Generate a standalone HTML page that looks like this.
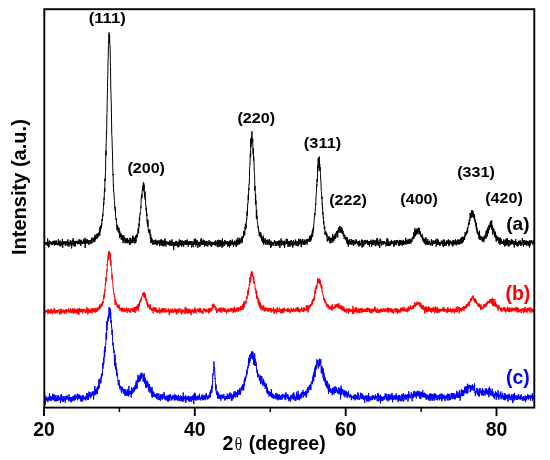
<!DOCTYPE html>
<html><head><meta charset="utf-8"><style>
html,body{margin:0;padding:0;background:#fff;width:550px;height:460px;overflow:hidden}
svg{display:block}
</style></head><body>
<svg width="550" height="460" viewBox="0 0 550 460">
<rect width="550" height="460" fill="#fff"/>
<polyline fill="none" stroke="#000" stroke-width="1" stroke-linejoin="round" points="44.50,244.1 44.50,245.0 44.50,244.1 44.50,241.2 44.60,245.1 44.75,244.3 44.91,242.5 45.06,244.5 45.21,244.2 45.36,244.0 45.51,243.5 45.66,244.5 45.81,242.2 45.96,243.2 46.11,242.6 46.26,244.6 46.41,243.6 46.56,243.0 46.72,242.1 46.87,243.0 47.02,243.5 47.17,243.0 47.32,245.8 47.47,245.3 47.62,238.6 47.77,240.1 47.92,243.2 48.07,242.7 48.22,243.9 48.37,243.9 48.53,247.3 48.68,241.5 48.83,242.8 48.98,247.2 49.13,244.6 49.28,244.7 49.43,242.5 49.58,240.5 49.73,243.8 49.88,243.7 50.03,241.3 50.18,242.2 50.34,243.3 50.49,241.8 50.64,243.3 50.79,243.6 50.94,243.5 51.09,242.5 51.24,244.5 51.39,245.1 51.54,244.0 51.69,242.0 51.84,244.8 51.99,242.6 52.15,245.0 52.30,241.5 52.45,245.1 52.60,243.4 52.75,241.2 52.90,242.9 53.05,243.5 53.20,243.9 53.35,241.7 53.50,241.4 53.65,243.8 53.80,242.6 53.96,243.9 54.11,244.8 54.26,240.5 54.41,243.9 54.56,245.6 54.71,242.9 54.86,242.0 55.01,244.8 55.16,243.9 55.31,245.0 55.46,242.8 55.61,240.8 55.77,243.2 55.92,242.6 56.07,244.8 56.22,243.8 56.37,240.5 56.52,241.3 56.67,245.0 56.82,244.6 56.97,242.3 57.12,243.4 57.27,244.2 57.42,244.3 57.58,245.0 57.73,243.9 57.88,243.2 58.03,242.9 58.18,245.3 58.33,239.3 58.48,243.1 58.63,243.5 58.78,240.8 58.93,244.0 59.08,242.2 59.23,244.9 59.39,243.2 59.54,244.6 59.69,245.6 59.84,244.1 59.99,241.8 60.14,240.6 60.29,246.5 60.44,243.2 60.59,242.1 60.74,243.6 60.89,243.0 61.04,244.9 61.20,243.4 61.35,243.4 61.50,242.1 61.65,244.2 61.80,241.5 61.95,244.6 62.10,246.1 62.25,240.6 62.40,238.9 62.55,244.5 62.70,247.9 62.85,241.5 63.01,241.1 63.16,244.4 63.31,241.8 63.46,242.4 63.61,242.7 63.76,244.3 63.91,242.6 64.06,243.8 64.21,243.0 64.36,241.8 64.51,242.7 64.67,241.6 64.82,243.3 64.97,241.3 65.12,241.3 65.27,245.9 65.42,243.2 65.57,243.2 65.72,244.2 65.87,242.5 66.02,242.9 66.17,244.1 66.32,243.8 66.48,241.2 66.63,244.8 66.78,242.2 66.93,241.4 67.08,241.6 67.23,242.6 67.38,246.2 67.53,241.1 67.68,243.5 67.83,239.4 67.98,243.2 68.13,244.9 68.29,242.8 68.44,242.1 68.59,243.7 68.74,244.5 68.89,244.4 69.04,246.8 69.19,243.6 69.34,242.2 69.49,243.0 69.64,243.1 69.79,243.4 69.94,243.2 70.10,243.5 70.25,240.2 70.40,244.7 70.55,242.2 70.70,241.1 70.85,244.3 71.00,245.6 71.15,244.1 71.30,243.5 71.45,241.5 71.60,248.4 71.75,244.8 71.91,241.1 72.06,241.7 72.21,243.3 72.36,240.3 72.51,243.4 72.66,242.3 72.81,245.3 72.96,244.9 73.11,238.2 73.26,243.2 73.41,240.2 73.56,245.1 73.72,243.4 73.87,244.1 74.02,241.2 74.17,246.4 74.32,246.7 74.47,241.1 74.62,243.7 74.77,241.8 74.92,243.0 75.07,240.8 75.22,246.4 75.37,241.3 75.53,242.5 75.68,243.9 75.83,241.8 75.98,242.6 76.13,242.0 76.28,242.8 76.43,240.9 76.58,242.2 76.73,242.6 76.88,242.4 77.03,243.1 77.18,242.4 77.34,244.3 77.49,242.4 77.64,242.7 77.79,241.7 77.94,242.0 78.09,240.6 78.24,243.8 78.39,240.8 78.54,241.5 78.69,243.5 78.84,243.6 78.99,242.1 79.15,239.2 79.30,243.6 79.45,243.3 79.60,240.3 79.75,244.2 79.90,241.5 80.05,240.7 80.20,243.0 80.35,242.4 80.50,243.1 80.65,239.8 80.80,246.0 80.96,241.6 81.11,239.9 81.26,243.8 81.41,242.0 81.56,243.3 81.71,242.0 81.86,242.5 82.01,243.1 82.16,241.3 82.31,243.8 82.46,241.7 82.62,241.0 82.77,242.7 82.92,243.4 83.07,242.1 83.22,241.0 83.37,243.6 83.52,239.3 83.67,240.6 83.82,242.5 83.97,240.0 84.12,242.5 84.27,242.3 84.43,244.0 84.58,240.7 84.73,241.2 84.88,242.9 85.03,237.8 85.18,248.0 85.33,241.0 85.48,240.9 85.63,243.8 85.78,242.1 85.93,238.9 86.08,243.3 86.24,243.7 86.39,241.3 86.54,241.6 86.69,243.0 86.84,240.4 86.99,242.8 87.14,242.4 87.29,240.7 87.44,239.4 87.59,241.5 87.74,240.3 87.89,243.7 88.05,242.1 88.20,243.2 88.35,242.0 88.50,242.2 88.65,240.3 88.80,242.9 88.95,244.9 89.10,241.0 89.25,240.5 89.40,241.2 89.55,240.6 89.70,240.1 89.86,241.6 90.01,240.8 90.16,244.0 90.31,241.3 90.46,241.8 90.61,242.9 90.76,240.6 90.91,243.7 91.06,239.8 91.21,239.5 91.36,240.2 91.51,240.6 91.67,238.2 91.82,240.7 91.97,237.6 92.12,243.2 92.27,240.4 92.42,239.3 92.57,238.7 92.72,239.6 92.87,239.8 93.02,238.2 93.17,238.4 93.32,239.7 93.48,238.9 93.63,241.6 93.78,241.9 93.93,239.7 94.08,240.5 94.23,236.9 94.38,240.6 94.53,239.2 94.68,240.1 94.83,242.1 94.98,234.6 95.13,239.3 95.29,236.6 95.44,239.7 95.59,235.9 95.74,237.3 95.89,238.5 96.04,239.1 96.19,237.9 96.34,236.1 96.49,236.4 96.64,239.0 96.79,237.1 96.94,233.6 97.10,238.3 97.25,237.3 97.40,238.0 97.55,235.4 97.70,237.4 97.85,233.5 98.00,236.4 98.15,234.0 98.30,236.1 98.45,236.4 98.60,232.7 98.75,233.7 98.91,233.6 99.06,235.5 99.21,234.2 99.36,229.9 99.51,232.9 99.66,233.1 99.81,235.5 99.96,227.1 100.11,229.0 100.26,232.4 100.41,226.2 100.56,225.9 100.72,228.9 100.87,229.4 101.02,225.1 101.17,227.0 101.32,225.3 101.47,227.6 101.62,223.4 101.77,224.7 101.92,219.5 102.07,220.2 102.22,219.3 102.38,221.0 102.53,218.5 102.68,214.2 102.83,216.2 102.98,215.0 103.13,211.3 103.28,209.3 103.43,207.8 103.58,202.1 103.73,204.9 103.88,202.9 104.03,197.8 104.19,199.6 104.34,191.5 104.49,190.9 104.64,188.2 104.79,192.0 104.94,178.5 105.09,181.2 105.24,178.5 105.39,172.9 105.54,171.1 105.69,159.8 105.84,150.8 106.00,155.4 106.15,143.6 106.30,140.7 106.45,131.7 106.60,133.2 106.75,126.1 106.90,113.5 107.05,112.6 107.20,102.5 107.35,94.2 107.50,87.6 107.65,79.3 107.81,75.5 107.96,67.4 108.11,58.1 108.26,57.9 108.41,45.5 108.56,44.7 108.71,41.5 108.86,43.3 109.01,32.6 109.16,41.9 109.31,35.1 109.46,34.8 109.62,35.1 109.77,44.1 109.92,46.0 110.07,46.0 110.22,51.7 110.37,60.5 110.52,66.7 110.67,81.0 110.82,89.3 110.97,94.5 111.12,99.8 111.27,104.0 111.43,112.9 111.58,122.9 111.73,133.9 111.88,135.9 112.03,137.9 112.18,144.9 112.33,148.7 112.48,153.1 112.63,160.0 112.78,165.8 112.93,175.2 113.08,174.0 113.24,181.7 113.39,186.4 113.54,185.0 113.69,192.4 113.84,192.9 113.99,192.7 114.14,197.1 114.29,199.0 114.44,200.6 114.59,202.9 114.74,205.8 114.89,208.4 115.05,206.9 115.20,210.8 115.35,208.7 115.50,214.5 115.65,216.7 115.80,216.9 115.95,218.4 116.10,220.3 116.25,218.5 116.40,220.5 116.55,223.2 116.70,225.2 116.86,224.7 117.01,230.2 117.16,225.2 117.31,228.3 117.46,229.6 117.61,227.2 117.76,226.4 117.91,226.2 118.06,229.6 118.21,232.1 118.36,230.9 118.51,231.2 118.67,230.5 118.82,232.9 118.97,227.8 119.12,233.0 119.27,233.0 119.42,230.5 119.57,238.0 119.72,231.2 119.87,232.1 120.02,232.2 120.17,237.0 120.33,233.4 120.48,236.7 120.63,236.8 120.78,236.4 120.93,233.5 121.08,235.1 121.23,239.8 121.38,234.2 121.53,235.3 121.68,236.8 121.83,238.9 121.98,238.0 122.14,239.1 122.29,235.8 122.44,239.8 122.59,239.2 122.74,235.2 122.89,241.3 123.04,242.9 123.19,237.2 123.34,238.9 123.49,241.6 123.64,236.2 123.79,235.4 123.95,236.8 124.10,238.3 124.25,238.3 124.40,240.7 124.55,240.1 124.70,237.4 124.85,240.9 125.00,243.4 125.15,242.2 125.30,241.9 125.45,240.2 125.60,242.0 125.76,238.5 125.91,241.7 126.06,240.2 126.21,242.6 126.36,241.4 126.51,238.6 126.66,240.9 126.81,243.0 126.96,238.6 127.11,239.8 127.26,239.4 127.41,238.1 127.57,242.7 127.72,243.4 127.87,242.5 128.02,241.5 128.17,241.0 128.32,241.6 128.47,239.8 128.62,242.9 128.77,243.2 128.92,243.0 129.07,240.3 129.22,241.5 129.38,241.1 129.53,244.7 129.68,241.7 129.83,238.0 129.98,242.2 130.13,244.9 130.28,242.7 130.43,243.1 130.58,241.6 130.73,237.9 130.88,238.2 131.03,239.2 131.19,241.3 131.34,242.1 131.49,242.8 131.64,240.9 131.79,243.2 131.94,240.9 132.09,240.1 132.24,243.0 132.39,239.7 132.54,236.3 132.69,239.4 132.84,241.5 133.00,235.5 133.15,240.5 133.30,240.5 133.45,238.4 133.60,238.2 133.75,240.0 133.90,239.8 134.05,243.0 134.20,241.3 134.35,237.5 134.50,238.7 134.65,241.5 134.81,243.6 134.96,240.6 135.11,240.3 135.26,243.0 135.41,239.2 135.56,238.4 135.71,236.1 135.86,237.5 136.01,242.3 136.16,235.1 136.31,237.5 136.46,234.3 136.62,236.9 136.77,237.9 136.92,235.2 137.07,236.6 137.22,236.1 137.37,234.9 137.52,236.8 137.67,234.3 137.82,231.3 137.97,229.8 138.12,228.6 138.27,230.4 138.43,227.8 138.58,233.3 138.73,230.4 138.88,224.8 139.03,223.4 139.18,226.6 139.33,217.4 139.48,219.2 139.63,221.1 139.78,215.3 139.93,214.8 140.09,213.6 140.24,214.4 140.39,211.6 140.54,210.6 140.69,209.5 140.84,206.5 140.99,207.6 141.14,201.3 141.29,197.8 141.44,195.4 141.59,194.2 141.74,195.6 141.90,198.4 142.05,194.9 142.20,191.6 142.35,189.2 142.50,189.7 142.65,189.2 142.80,188.1 142.95,185.2 143.10,187.4 143.25,191.3 143.40,182.4 143.55,187.9 143.71,182.9 143.86,189.7 144.01,187.7 144.16,184.7 144.31,191.6 144.46,197.2 144.61,193.6 144.76,197.7 144.91,195.6 145.06,191.5 145.21,200.0 145.36,199.1 145.52,198.0 145.67,205.4 145.82,205.7 145.97,205.3 146.12,210.4 146.27,207.8 146.42,213.1 146.57,210.9 146.72,216.0 146.87,213.7 147.02,221.2 147.17,219.8 147.33,223.9 147.48,220.1 147.63,222.2 147.78,226.3 147.93,219.8 148.08,224.5 148.23,230.1 148.38,229.9 148.53,231.9 148.68,230.1 148.83,232.8 148.98,230.9 149.14,230.4 149.29,230.5 149.44,233.4 149.59,234.1 149.74,234.5 149.89,229.3 150.04,232.9 150.19,236.2 150.34,238.2 150.49,236.9 150.64,236.8 150.79,234.4 150.95,242.9 151.10,237.3 151.25,242.8 151.40,242.9 151.55,240.7 151.70,239.3 151.85,240.8 152.00,238.6 152.15,241.4 152.30,241.1 152.45,242.3 152.60,243.2 152.76,244.7 152.91,240.9 153.06,243.7 153.21,240.4 153.36,240.3 153.51,240.9 153.66,240.3 153.81,244.0 153.96,244.0 154.11,244.7 154.26,242.4 154.41,243.0 154.57,241.5 154.72,240.5 154.87,243.4 155.02,243.1 155.17,240.7 155.32,243.8 155.47,239.6 155.62,242.5 155.77,241.7 155.92,241.9 156.07,240.9 156.22,244.6 156.38,243.9 156.53,245.1 156.68,243.2 156.83,240.6 156.98,242.3 157.13,240.8 157.28,243.8 157.43,245.2 157.58,243.6 157.73,241.9 157.88,242.4 158.04,243.4 158.19,240.4 158.34,243.3 158.49,243.4 158.64,242.1 158.79,242.3 158.94,243.4 159.09,241.6 159.24,241.6 159.39,244.5 159.54,243.5 159.69,246.2 159.85,241.3 160.00,239.9 160.15,244.8 160.30,244.9 160.45,241.8 160.60,240.5 160.75,243.1 160.90,240.0 161.05,242.5 161.20,239.2 161.35,242.7 161.50,239.3 161.66,242.7 161.81,245.9 161.96,242.7 162.11,244.5 162.26,242.0 162.41,241.5 162.56,240.5 162.71,245.0 162.86,243.1 163.01,246.1 163.16,241.0 163.31,242.8 163.47,243.3 163.62,245.7 163.77,246.4 163.92,242.0 164.07,241.1 164.22,240.0 164.37,245.6 164.52,243.0 164.67,242.0 164.82,243.1 164.97,238.5 165.12,240.0 165.28,244.8 165.43,243.9 165.58,243.4 165.73,241.4 165.88,244.2 166.03,246.4 166.18,241.0 166.33,243.2 166.48,242.4 166.63,243.8 166.78,243.2 166.93,242.9 167.09,241.6 167.24,243.1 167.39,242.1 167.54,242.9 167.69,243.1 167.84,244.4 167.99,242.1 168.14,242.6 168.29,245.1 168.44,242.8 168.59,242.7 168.74,244.7 168.90,243.7 169.05,243.3 169.20,243.6 169.35,240.9 169.50,244.0 169.65,245.6 169.80,244.2 169.95,240.4 170.10,243.7 170.25,241.6 170.40,242.8 170.55,243.4 170.71,241.1 170.86,245.6 171.01,243.1 171.16,244.6 171.31,244.4 171.46,245.6 171.61,245.4 171.76,240.6 171.91,243.3 172.06,239.4 172.21,242.4 172.36,244.5 172.52,244.9 172.67,245.5 172.82,242.5 172.97,243.8 173.12,243.4 173.27,245.5 173.42,246.1 173.57,242.6 173.72,250.1 173.87,243.2 174.02,242.6 174.17,244.3 174.33,244.6 174.48,244.2 174.63,242.1 174.78,245.9 174.93,243.3 175.08,246.0 175.23,245.8 175.38,241.0 175.53,241.5 175.68,241.4 175.83,243.7 175.98,243.4 176.14,243.7 176.29,241.8 176.44,244.0 176.59,245.8 176.74,240.9 176.89,242.9 177.04,243.7 177.19,243.0 177.34,242.9 177.49,246.5 177.64,245.6 177.80,244.8 177.95,241.9 178.10,247.3 178.25,243.9 178.40,242.2 178.55,242.7 178.70,242.4 178.85,247.1 179.00,243.6 179.15,243.4 179.30,239.4 179.45,244.6 179.61,241.4 179.76,241.2 179.91,244.4 180.06,241.7 180.21,244.8 180.36,245.3 180.51,240.1 180.66,243.0 180.81,240.4 180.96,243.2 181.11,244.9 181.26,240.8 181.42,246.5 181.57,242.7 181.72,241.1 181.87,243.1 182.02,244.7 182.17,240.8 182.32,243.3 182.47,240.8 182.62,245.4 182.77,243.6 182.92,242.5 183.07,245.1 183.23,240.9 183.38,242.6 183.53,246.6 183.68,243.0 183.83,245.7 183.98,243.6 184.13,242.0 184.28,242.8 184.43,243.4 184.58,242.5 184.73,241.8 184.88,241.9 185.04,240.6 185.19,243.5 185.34,244.0 185.49,244.6 185.64,240.0 185.79,244.7 185.94,243.2 186.09,240.7 186.24,243.4 186.39,244.7 186.54,244.2 186.69,244.6 186.85,245.0 187.00,244.9 187.15,243.2 187.30,239.5 187.45,241.9 187.60,243.9 187.75,242.4 187.90,244.5 188.05,244.7 188.20,243.4 188.35,246.7 188.50,241.5 188.66,244.9 188.81,242.4 188.96,241.9 189.11,244.3 189.26,242.2 189.41,244.8 189.56,241.2 189.71,243.3 189.86,241.7 190.01,242.8 190.16,242.6 190.31,241.2 190.47,244.5 190.62,241.0 190.77,241.5 190.92,244.9 191.07,245.0 191.22,244.5 191.37,243.9 191.52,247.4 191.67,241.1 191.82,241.9 191.97,241.5 192.12,244.9 192.28,243.8 192.43,245.3 192.58,245.0 192.73,242.9 192.88,241.8 193.03,241.5 193.18,247.3 193.33,245.0 193.48,244.3 193.63,242.7 193.78,242.9 193.93,242.7 194.09,242.7 194.24,238.9 194.39,243.2 194.54,242.6 194.69,243.8 194.84,243.7 194.99,244.8 195.14,243.3 195.29,244.7 195.44,238.7 195.59,241.3 195.75,246.4 195.90,241.1 196.05,242.8 196.20,244.5 196.35,241.7 196.50,244.6 196.65,240.7 196.80,239.8 196.95,240.9 197.10,240.3 197.25,243.2 197.40,242.7 197.56,243.9 197.71,241.4 197.86,247.9 198.01,243.1 198.16,243.2 198.31,244.1 198.46,242.8 198.61,242.1 198.76,243.4 198.91,244.9 199.06,244.5 199.21,245.0 199.37,242.3 199.52,241.9 199.67,246.9 199.82,242.8 199.97,244.1 200.12,244.6 200.27,245.8 200.42,240.8 200.57,242.4 200.72,242.5 200.87,242.7 201.02,238.9 201.18,243.1 201.33,238.1 201.48,243.8 201.63,244.2 201.78,244.4 201.93,241.1 202.08,245.0 202.23,241.7 202.38,241.1 202.53,241.5 202.68,241.8 202.83,243.6 202.99,244.8 203.14,239.5 203.29,242.3 203.44,244.9 203.59,243.6 203.74,244.2 203.89,240.6 204.04,245.0 204.19,240.5 204.34,243.6 204.49,245.7 204.64,246.7 204.80,244.2 204.95,244.9 205.10,242.2 205.25,242.4 205.40,245.4 205.55,243.3 205.70,243.1 205.85,240.8 206.00,243.6 206.15,244.5 206.30,241.9 206.45,242.4 206.61,246.1 206.76,243.6 206.91,242.8 207.06,241.2 207.21,242.2 207.36,242.8 207.51,245.8 207.66,242.2 207.81,246.5 207.96,241.6 208.11,242.6 208.26,244.8 208.42,242.9 208.57,241.8 208.72,243.0 208.87,244.1 209.02,240.2 209.17,242.8 209.32,243.1 209.47,242.6 209.62,244.6 209.77,242.3 209.92,242.6 210.07,243.3 210.23,244.6 210.38,242.9 210.53,246.0 210.68,241.6 210.83,245.6 210.98,241.7 211.13,243.0 211.28,243.9 211.43,247.0 211.58,244.9 211.73,242.5 211.88,245.6 212.04,242.9 212.19,241.9 212.34,244.1 212.49,243.4 212.64,245.0 212.79,242.3 212.94,244.0 213.09,244.4 213.24,243.8 213.39,243.2 213.54,242.0 213.69,244.9 213.85,243.5 214.00,244.2 214.15,242.6 214.30,243.3 214.45,241.4 214.60,243.4 214.75,244.6 214.90,243.4 215.05,244.8 215.20,243.8 215.35,245.7 215.51,242.9 215.66,240.3 215.81,244.0 215.96,243.0 216.11,241.5 216.26,244.4 216.41,243.7 216.56,244.1 216.71,242.7 216.86,243.6 217.01,243.7 217.16,246.5 217.32,242.0 217.47,243.2 217.62,243.9 217.77,240.1 217.92,240.4 218.07,247.2 218.22,240.1 218.37,244.3 218.52,241.7 218.67,241.9 218.82,239.7 218.97,241.6 219.13,244.7 219.28,240.7 219.43,244.3 219.58,243.8 219.73,246.9 219.88,242.4 220.03,245.5 220.18,244.8 220.33,242.7 220.48,240.2 220.63,246.0 220.78,240.8 220.94,242.4 221.09,244.8 221.24,245.2 221.39,241.7 221.54,243.2 221.69,242.8 221.84,245.4 221.99,247.7 222.14,239.9 222.29,244.9 222.44,238.1 222.59,243.2 222.75,241.2 222.90,246.8 223.05,243.5 223.20,241.9 223.35,242.3 223.50,242.2 223.65,243.5 223.80,242.9 223.95,244.4 224.10,246.0 224.25,244.5 224.40,241.0 224.56,240.3 224.71,241.8 224.86,245.1 225.01,242.6 225.16,242.0 225.31,243.4 225.46,240.6 225.61,241.1 225.76,244.1 225.91,242.6 226.06,242.3 226.21,243.7 226.37,242.1 226.52,241.9 226.67,242.3 226.82,244.2 226.97,243.3 227.12,241.0 227.27,242.6 227.42,244.3 227.57,246.5 227.72,241.1 227.87,243.7 228.02,242.7 228.18,244.6 228.33,243.9 228.48,245.8 228.63,244.0 228.78,242.1 228.93,242.1 229.08,243.8 229.23,243.8 229.38,247.4 229.53,246.1 229.68,240.9 229.83,243.7 229.99,240.6 230.14,240.1 230.29,244.4 230.44,244.0 230.59,241.2 230.74,246.0 230.89,241.2 231.04,240.9 231.19,244.2 231.34,243.4 231.49,242.7 231.64,242.8 231.80,243.4 231.95,242.7 232.10,242.6 232.25,239.5 232.40,240.5 232.55,244.0 232.70,241.6 232.85,243.9 233.00,245.1 233.15,242.2 233.30,243.4 233.46,246.6 233.61,244.1 233.76,246.1 233.91,245.6 234.06,244.1 234.21,242.6 234.36,241.2 234.51,240.7 234.66,243.6 234.81,243.5 234.96,242.3 235.11,244.2 235.27,241.5 235.42,244.6 235.57,242.6 235.72,242.5 235.87,242.5 236.02,242.3 236.17,247.0 236.32,239.5 236.47,242.7 236.62,244.6 236.77,243.6 236.92,241.7 237.08,245.4 237.23,240.3 237.38,239.8 237.53,243.2 237.68,239.4 237.83,237.7 237.98,243.6 238.13,243.3 238.28,243.2 238.43,240.9 238.58,242.1 238.73,239.9 238.89,244.8 239.04,243.0 239.19,242.8 239.34,237.8 239.49,242.8 239.64,244.0 239.79,243.4 239.94,242.5 240.09,240.9 240.24,240.2 240.39,241.8 240.54,241.3 240.70,240.9 240.85,239.8 241.00,243.3 241.15,237.9 241.30,239.9 241.45,238.6 241.60,241.5 241.75,242.1 241.90,241.5 242.05,240.4 242.20,236.1 242.35,242.5 242.51,239.2 242.66,237.8 242.81,237.7 242.96,236.7 243.11,237.9 243.26,237.3 243.41,235.7 243.56,231.0 243.71,235.5 243.86,236.1 244.01,235.7 244.16,233.9 244.32,234.6 244.47,235.2 244.62,231.5 244.77,234.8 244.92,227.1 245.07,227.8 245.22,227.8 245.37,223.7 245.52,225.8 245.67,229.6 245.82,228.7 245.97,225.1 246.13,227.5 246.28,223.1 246.43,220.1 246.58,220.4 246.73,218.1 246.88,218.5 247.03,211.6 247.18,215.8 247.33,210.4 247.48,211.7 247.63,203.7 247.78,204.2 247.94,203.2 248.09,202.9 248.24,194.8 248.39,199.8 248.54,193.9 248.69,188.3 248.84,190.2 248.99,184.0 249.14,183.9 249.29,184.2 249.44,176.4 249.59,169.3 249.75,166.3 249.90,166.2 250.05,162.1 250.20,155.4 250.35,152.9 250.50,154.3 250.65,157.2 250.80,138.3 250.95,147.2 251.10,142.1 251.25,143.7 251.40,142.7 251.56,138.9 251.71,134.6 251.86,133.0 252.01,131.4 252.16,142.5 252.31,138.4 252.46,138.4 252.61,140.8 252.76,139.1 252.91,146.7 253.06,152.4 253.22,154.4 253.37,148.3 253.52,160.7 253.67,157.0 253.82,156.6 253.97,162.0 254.12,166.1 254.27,172.3 254.42,172.5 254.57,174.4 254.72,181.2 254.87,190.5 255.03,186.1 255.18,192.3 255.33,194.0 255.48,203.6 255.63,194.2 255.78,204.4 255.93,200.7 256.08,204.8 256.23,208.2 256.38,218.2 256.53,210.5 256.68,209.7 256.84,218.9 256.99,215.6 257.14,218.5 257.29,220.4 257.44,222.0 257.59,222.7 257.74,224.8 257.89,226.2 258.04,228.2 258.19,226.5 258.34,226.7 258.49,226.9 258.65,231.2 258.80,230.6 258.95,232.6 259.10,233.2 259.25,236.1 259.40,233.7 259.55,235.4 259.70,232.0 259.85,232.7 260.00,234.7 260.15,233.3 260.30,237.5 260.46,233.9 260.61,237.0 260.76,232.4 260.91,235.4 261.06,237.1 261.21,237.6 261.36,234.9 261.51,238.8 261.66,240.7 261.81,240.2 261.96,238.0 262.11,238.3 262.27,237.4 262.42,241.0 262.57,242.6 262.72,239.1 262.87,237.1 263.02,240.7 263.17,241.8 263.32,235.6 263.47,241.0 263.62,244.9 263.77,242.5 263.92,242.1 264.08,241.9 264.23,243.2 264.38,239.6 264.53,239.8 264.68,242.2 264.83,240.3 264.98,242.1 265.13,238.2 265.28,243.1 265.43,243.4 265.58,241.9 265.73,242.2 265.89,244.9 266.04,240.0 266.19,240.4 266.34,240.1 266.49,241.4 266.64,240.3 266.79,242.3 266.94,241.1 267.09,239.7 267.24,239.5 267.39,244.6 267.54,242.3 267.70,242.0 267.85,242.5 268.00,242.3 268.15,243.9 268.30,243.5 268.45,241.5 268.60,241.1 268.75,240.6 268.90,240.3 269.05,245.2 269.20,241.0 269.35,239.0 269.51,241.2 269.66,241.3 269.81,243.3 269.96,241.1 270.11,243.7 270.26,243.5 270.41,245.1 270.56,246.7 270.71,248.0 270.86,245.3 271.01,240.7 271.17,242.1 271.32,243.3 271.47,246.6 271.62,244.1 271.77,245.1 271.92,242.6 272.07,244.0 272.22,244.2 272.37,242.1 272.52,244.3 272.67,244.9 272.82,242.6 272.98,244.8 273.13,245.9 273.28,243.1 273.43,243.0 273.58,242.4 273.73,241.9 273.88,243.3 274.03,242.2 274.18,242.4 274.33,241.6 274.48,240.2 274.63,241.3 274.79,243.6 274.94,240.9 275.09,241.8 275.24,246.0 275.39,245.1 275.54,241.8 275.69,244.1 275.84,241.9 275.99,246.0 276.14,242.0 276.29,243.2 276.44,245.5 276.60,241.6 276.75,245.4 276.90,241.6 277.05,243.5 277.20,242.5 277.35,242.9 277.50,243.4 277.65,242.9 277.80,241.2 277.95,244.6 278.10,244.4 278.25,245.4 278.41,245.6 278.56,240.7 278.71,245.4 278.86,245.4 279.01,242.1 279.16,245.0 279.31,245.7 279.46,242.1 279.61,240.6 279.76,242.4 279.91,248.1 280.06,243.5 280.22,240.9 280.37,242.6 280.52,241.3 280.67,242.4 280.82,243.3 280.97,238.5 281.12,243.8 281.27,245.7 281.42,242.8 281.57,242.4 281.72,245.1 281.87,240.8 282.03,240.9 282.18,240.6 282.33,242.8 282.48,243.8 282.63,242.9 282.78,244.1 282.93,244.6 283.08,244.0 283.23,241.7 283.38,242.6 283.53,245.4 283.68,241.2 283.84,242.7 283.99,242.4 284.14,242.8 284.29,241.2 284.44,240.7 284.59,247.7 284.74,244.8 284.89,241.8 285.04,243.0 285.19,244.3 285.34,242.5 285.49,244.2 285.65,242.0 285.80,242.5 285.95,243.0 286.10,242.3 286.25,238.7 286.40,243.1 286.55,243.6 286.70,244.0 286.85,241.3 287.00,243.7 287.15,243.5 287.30,239.9 287.46,239.1 287.61,244.0 287.76,241.4 287.91,244.9 288.06,247.0 288.21,242.1 288.36,241.9 288.51,243.1 288.66,244.3 288.81,241.0 288.96,245.3 289.11,244.9 289.27,244.3 289.42,242.1 289.57,244.7 289.72,244.6 289.87,240.9 290.02,246.9 290.17,242.5 290.32,243.7 290.47,242.1 290.62,243.8 290.77,245.2 290.93,241.6 291.08,240.1 291.23,242.3 291.38,240.7 291.53,241.7 291.68,242.8 291.83,243.0 291.98,245.4 292.13,241.2 292.28,243.7 292.43,242.1 292.58,245.5 292.74,247.6 292.89,243.6 293.04,246.1 293.19,242.1 293.34,240.2 293.49,240.7 293.64,240.2 293.79,241.3 293.94,242.6 294.09,245.1 294.24,244.3 294.39,243.9 294.55,242.3 294.70,241.7 294.85,243.1 295.00,243.3 295.15,243.5 295.30,243.7 295.45,242.8 295.60,239.5 295.75,241.0 295.90,241.5 296.05,246.0 296.20,242.2 296.36,244.2 296.51,245.6 296.66,243.6 296.81,242.2 296.96,242.4 297.11,241.1 297.26,243.5 297.41,245.0 297.56,244.0 297.71,244.3 297.86,244.2 298.01,246.5 298.17,241.8 298.32,243.2 298.47,244.2 298.62,245.1 298.77,238.5 298.92,241.9 299.07,242.5 299.22,241.0 299.37,244.4 299.52,243.2 299.67,242.1 299.82,239.8 299.98,240.4 300.13,241.0 300.28,243.6 300.43,240.6 300.58,239.0 300.73,240.1 300.88,241.7 301.03,245.7 301.18,247.2 301.33,241.8 301.48,244.4 301.63,245.2 301.79,245.0 301.94,242.4 302.09,240.2 302.24,241.7 302.39,239.2 302.54,243.0 302.69,243.9 302.84,239.1 302.99,242.4 303.14,243.0 303.29,244.7 303.44,244.9 303.60,243.8 303.75,241.1 303.90,241.7 304.05,244.5 304.20,241.2 304.35,242.2 304.50,245.0 304.65,242.4 304.80,239.6 304.95,241.5 305.10,243.2 305.25,241.7 305.41,244.1 305.56,244.3 305.71,240.7 305.86,240.9 306.01,241.6 306.16,239.5 306.31,242.3 306.46,241.2 306.61,243.0 306.76,240.3 306.91,239.8 307.06,244.7 307.22,239.6 307.37,240.1 307.52,239.7 307.67,240.4 307.82,239.2 307.97,240.7 308.12,239.3 308.27,239.8 308.42,241.1 308.57,241.6 308.72,241.0 308.88,238.6 309.03,240.6 309.18,239.5 309.33,239.3 309.48,236.1 309.63,240.4 309.78,238.7 309.93,242.0 310.08,239.7 310.23,236.1 310.38,235.4 310.53,239.9 310.69,235.7 310.84,238.4 310.99,236.2 311.14,240.5 311.29,236.2 311.44,238.6 311.59,237.9 311.74,233.9 311.89,233.6 312.04,236.7 312.19,233.2 312.34,230.9 312.50,234.5 312.65,236.6 312.80,230.5 312.95,232.8 313.10,228.7 313.25,231.1 313.40,226.8 313.55,229.1 313.70,226.4 313.85,223.7 314.00,223.4 314.15,220.4 314.31,217.7 314.46,216.4 314.61,217.1 314.76,213.2 314.91,215.0 315.06,213.4 315.21,211.3 315.36,206.9 315.51,206.2 315.66,203.8 315.81,204.9 315.96,197.0 316.12,195.7 316.27,193.5 316.42,191.1 316.57,186.8 316.72,184.4 316.87,186.4 317.02,179.0 317.17,180.9 317.32,181.7 317.47,177.0 317.62,165.4 317.77,171.1 317.93,168.2 318.08,166.7 318.23,158.4 318.38,164.6 318.53,157.8 318.68,164.7 318.83,163.7 318.98,168.4 319.13,159.4 319.28,156.5 319.43,165.5 319.58,166.2 319.74,163.9 319.89,171.0 320.04,170.9 320.19,167.1 320.34,172.3 320.49,174.5 320.64,178.0 320.79,181.5 320.94,181.7 321.09,185.8 321.24,190.6 321.39,191.4 321.55,193.5 321.70,195.9 321.85,199.0 322.00,196.7 322.15,204.3 322.30,203.5 322.45,208.5 322.60,206.6 322.75,214.3 322.90,214.5 323.05,212.5 323.20,217.8 323.36,217.0 323.51,224.3 323.66,222.7 323.81,221.1 323.96,224.5 324.11,225.1 324.26,228.8 324.41,227.9 324.56,229.2 324.71,226.6 324.86,231.4 325.01,234.8 325.17,232.5 325.32,231.8 325.47,232.8 325.62,231.1 325.77,233.9 325.92,231.9 326.07,234.6 326.22,234.2 326.37,233.7 326.52,236.9 326.67,233.2 326.82,236.4 326.98,234.2 327.13,240.6 327.28,241.1 327.43,239.2 327.58,241.4 327.73,239.2 327.88,239.3 328.03,237.6 328.18,236.9 328.33,239.0 328.48,237.9 328.64,238.2 328.79,240.5 328.94,239.0 329.09,236.4 329.24,239.1 329.39,238.1 329.54,239.1 329.69,237.6 329.84,242.0 329.99,243.4 330.14,237.8 330.29,241.1 330.45,241.0 330.60,237.9 330.75,240.1 330.90,242.6 331.05,241.6 331.20,243.0 331.35,237.8 331.50,238.5 331.65,240.4 331.80,240.5 331.95,239.9 332.10,239.0 332.26,238.9 332.41,238.5 332.56,240.4 332.71,234.3 332.86,242.4 333.01,238.3 333.16,236.5 333.31,240.1 333.46,236.3 333.61,239.5 333.76,237.9 333.91,239.6 334.07,239.8 334.22,240.6 334.37,237.0 334.52,237.2 334.67,237.5 334.82,234.6 334.97,238.2 335.12,237.1 335.27,234.0 335.42,238.7 335.57,238.7 335.72,233.1 335.88,236.6 336.03,237.6 336.18,236.5 336.33,232.5 336.48,231.3 336.63,233.5 336.78,232.4 336.93,233.0 337.08,232.5 337.23,233.4 337.38,230.8 337.53,231.3 337.69,237.3 337.84,230.6 337.99,232.1 338.14,230.8 338.29,230.3 338.44,227.7 338.59,230.4 338.74,228.9 338.89,230.5 339.04,232.9 339.19,228.8 339.34,229.8 339.50,225.9 339.65,228.2 339.80,231.2 339.95,227.8 340.10,226.6 340.25,228.4 340.40,227.7 340.55,227.7 340.70,227.5 340.85,232.7 341.00,226.9 341.15,228.1 341.31,228.0 341.46,232.1 341.61,229.2 341.76,232.8 341.91,230.8 342.06,230.8 342.21,228.2 342.36,234.0 342.51,233.0 342.66,233.1 342.81,232.4 342.96,232.2 343.12,230.9 343.27,235.7 343.42,234.7 343.57,233.8 343.72,233.6 343.87,235.5 344.02,235.4 344.17,239.1 344.32,237.7 344.47,235.4 344.62,234.7 344.77,236.6 344.93,235.6 345.08,237.8 345.23,238.7 345.38,239.3 345.53,239.2 345.68,238.2 345.83,239.9 345.98,237.3 346.13,239.1 346.28,240.9 346.43,240.1 346.59,237.3 346.74,237.7 346.89,237.0 347.04,243.6 347.19,237.4 347.34,240.2 347.49,244.0 347.64,242.7 347.79,243.3 347.94,240.0 348.09,242.4 348.24,246.7 348.40,241.1 348.55,242.1 348.70,240.8 348.85,241.4 349.00,242.2 349.15,244.1 349.30,240.0 349.45,239.1 349.60,241.8 349.75,242.2 349.90,244.5 350.05,243.3 350.21,240.9 350.36,243.1 350.51,244.1 350.66,242.7 350.81,241.6 350.96,243.5 351.11,241.6 351.26,238.9 351.41,244.7 351.56,240.0 351.71,241.8 351.86,241.8 352.02,241.8 352.17,241.9 352.32,239.9 352.47,243.5 352.62,242.6 352.77,242.6 352.92,244.5 353.07,244.6 353.22,245.0 353.37,246.0 353.52,243.5 353.67,239.9 353.83,243.1 353.98,242.7 354.13,242.8 354.28,241.6 354.43,241.1 354.58,244.2 354.73,244.5 354.88,240.8 355.03,243.8 355.18,242.5 355.33,242.1 355.48,244.1 355.64,242.7 355.79,241.8 355.94,242.9 356.09,239.2 356.24,241.8 356.39,242.1 356.54,240.3 356.69,243.2 356.84,243.4 356.99,241.8 357.14,242.6 357.29,244.1 357.45,244.8 357.60,241.5 357.75,243.5 357.90,244.8 358.05,242.9 358.20,241.5 358.35,241.5 358.50,242.3 358.65,241.1 358.80,246.6 358.95,241.9 359.10,243.6 359.26,243.3 359.41,244.1 359.56,242.2 359.71,240.6 359.86,245.9 360.01,242.8 360.16,243.2 360.31,243.3 360.46,245.2 360.61,244.3 360.76,245.1 360.91,244.4 361.07,243.2 361.22,243.4 361.37,241.6 361.52,239.5 361.67,242.5 361.82,241.0 361.97,247.6 362.12,245.8 362.27,245.1 362.42,242.0 362.57,246.7 362.72,239.9 362.88,240.8 363.03,241.6 363.18,241.3 363.33,243.2 363.48,243.3 363.63,246.4 363.78,244.8 363.93,245.2 364.08,243.8 364.23,242.7 364.38,241.8 364.53,240.3 364.69,241.4 364.84,242.3 364.99,244.4 365.14,240.0 365.29,240.6 365.44,243.4 365.59,241.1 365.74,243.6 365.89,242.3 366.04,241.7 366.19,240.6 366.35,242.8 366.50,241.7 366.65,241.9 366.80,241.9 366.95,243.4 367.10,243.3 367.25,239.9 367.40,242.7 367.55,243.7 367.70,244.9 367.85,244.4 368.00,243.4 368.16,241.0 368.31,241.6 368.46,244.7 368.61,241.8 368.76,244.9 368.91,245.3 369.06,241.1 369.21,243.8 369.36,242.8 369.51,246.7 369.66,244.5 369.81,242.1 369.97,243.8 370.12,241.4 370.27,242.8 370.42,243.4 370.57,243.3 370.72,243.6 370.87,241.4 371.02,239.7 371.17,242.4 371.32,241.4 371.47,241.8 371.62,246.9 371.78,245.1 371.93,242.7 372.08,240.5 372.23,240.7 372.38,243.7 372.53,245.0 372.68,242.5 372.83,243.3 372.98,243.5 373.13,245.0 373.28,239.6 373.43,243.3 373.59,243.8 373.74,244.7 373.89,243.7 374.04,241.1 374.19,242.0 374.34,240.3 374.49,243.4 374.64,243.4 374.79,244.0 374.94,241.3 375.09,241.0 375.24,245.8 375.40,243.4 375.55,246.2 375.70,243.8 375.85,240.4 376.00,244.5 376.15,245.3 376.30,242.2 376.45,239.6 376.60,244.2 376.75,242.8 376.90,243.5 377.05,238.2 377.21,243.9 377.36,238.1 377.51,241.5 377.66,244.6 377.81,239.7 377.96,239.7 378.11,242.2 378.26,246.0 378.41,245.9 378.56,241.9 378.71,244.8 378.86,244.1 379.02,243.5 379.17,243.7 379.32,241.7 379.47,244.5 379.62,244.9 379.77,247.9 379.92,244.7 380.07,238.6 380.22,240.9 380.37,243.6 380.52,243.1 380.67,239.7 380.83,242.8 380.98,242.4 381.13,242.9 381.28,242.8 381.43,244.7 381.58,245.7 381.73,244.3 381.88,241.0 382.03,241.5 382.18,241.8 382.33,242.9 382.48,242.3 382.64,242.4 382.79,241.4 382.94,244.7 383.09,244.6 383.24,244.7 383.39,242.9 383.54,243.8 383.69,241.4 383.84,241.2 383.99,242.0 384.14,244.1 384.30,242.8 384.45,241.0 384.60,243.2 384.75,243.8 384.90,243.3 385.05,241.8 385.20,243.1 385.35,242.3 385.50,242.4 385.65,242.9 385.80,244.4 385.95,246.3 386.11,245.8 386.26,244.2 386.41,242.3 386.56,242.5 386.71,242.5 386.86,245.1 387.01,238.0 387.16,243.5 387.31,239.4 387.46,243.0 387.61,245.4 387.76,241.4 387.92,238.9 388.07,245.4 388.22,245.7 388.37,243.9 388.52,245.3 388.67,241.6 388.82,245.1 388.97,246.1 389.12,244.2 389.27,243.5 389.42,245.3 389.57,245.1 389.73,241.7 389.88,245.5 390.03,244.4 390.18,243.3 390.33,245.4 390.48,244.7 390.63,244.4 390.78,242.1 390.93,244.5 391.08,241.0 391.23,242.8 391.38,240.0 391.54,239.9 391.69,243.8 391.84,242.9 391.99,243.2 392.14,244.1 392.29,243.6 392.44,241.4 392.59,243.1 392.74,242.9 392.89,242.1 393.04,242.8 393.19,242.3 393.35,241.8 393.50,242.4 393.65,243.4 393.80,246.7 393.95,241.5 394.10,243.9 394.25,240.4 394.40,245.9 394.55,242.4 394.70,243.2 394.85,245.3 395.00,244.8 395.16,240.3 395.31,244.0 395.46,242.6 395.61,244.1 395.76,243.3 395.91,244.3 396.06,243.5 396.21,242.7 396.36,245.1 396.51,240.2 396.66,242.2 396.81,241.2 396.97,242.7 397.12,242.2 397.27,242.7 397.42,242.1 397.57,242.1 397.72,240.0 397.87,242.9 398.02,243.5 398.17,241.9 398.32,241.8 398.47,241.8 398.62,246.0 398.78,243.3 398.93,243.6 399.08,242.4 399.23,242.0 399.38,241.3 399.53,245.7 399.68,239.9 399.83,243.5 399.98,242.9 400.13,242.4 400.28,240.1 400.43,240.7 400.59,244.7 400.74,241.6 400.89,244.5 401.04,244.1 401.19,243.9 401.34,244.2 401.49,240.7 401.64,242.0 401.79,244.1 401.94,240.6 402.09,245.8 402.24,241.8 402.40,242.7 402.55,241.0 402.70,243.5 402.85,241.5 403.00,242.3 403.15,240.7 403.30,244.9 403.45,239.8 403.60,243.6 403.75,243.2 403.90,243.5 404.06,240.9 404.21,244.6 404.36,244.4 404.51,243.0 404.66,243.2 404.81,242.3 404.96,243.8 405.11,241.1 405.26,243.6 405.41,243.3 405.56,240.0 405.71,237.8 405.87,242.3 406.02,242.2 406.17,244.7 406.32,242.5 406.47,241.5 406.62,239.9 406.77,242.2 406.92,241.2 407.07,240.3 407.22,242.0 407.37,244.1 407.52,242.3 407.68,240.2 407.83,242.7 407.98,240.0 408.13,239.1 408.28,242.8 408.43,240.9 408.58,243.9 408.73,242.3 408.88,240.2 409.03,242.0 409.18,243.9 409.33,241.1 409.49,239.5 409.64,240.1 409.79,239.7 409.94,239.0 410.09,238.7 410.24,241.7 410.39,242.9 410.54,240.1 410.69,242.1 410.84,242.2 410.99,243.5 411.14,239.9 411.30,239.4 411.45,240.7 411.60,240.0 411.75,240.2 411.90,241.9 412.05,238.5 412.20,239.5 412.35,237.1 412.50,238.4 412.65,237.2 412.80,236.8 412.95,237.6 413.11,237.0 413.26,238.3 413.41,238.9 413.56,234.2 413.71,238.8 413.86,232.2 414.01,236.7 414.16,237.4 414.31,234.4 414.46,235.0 414.61,233.6 414.76,236.6 414.92,228.2 415.07,232.3 415.22,230.1 415.37,234.0 415.52,235.9 415.67,235.4 415.82,234.1 415.97,233.0 416.12,230.7 416.27,234.5 416.42,233.0 416.57,229.8 416.73,228.7 416.88,229.9 417.03,233.2 417.18,233.4 417.33,234.1 417.48,229.0 417.63,229.8 417.78,233.4 417.93,230.9 418.08,232.1 418.23,227.8 418.38,229.8 418.54,230.6 418.69,230.0 418.84,230.0 418.99,227.7 419.14,234.5 419.29,231.7 419.44,228.6 419.59,234.0 419.74,232.2 419.89,233.7 420.04,232.1 420.19,231.2 420.35,231.6 420.50,234.1 420.65,235.2 420.80,234.9 420.95,235.6 421.10,237.0 421.25,235.4 421.40,237.1 421.55,237.6 421.70,236.3 421.85,235.9 422.01,235.5 422.16,234.3 422.31,233.9 422.46,239.7 422.61,237.4 422.76,236.6 422.91,240.9 423.06,240.0 423.21,238.5 423.36,240.5 423.51,238.4 423.66,239.7 423.82,242.6 423.97,241.4 424.12,239.0 424.27,241.0 424.42,242.1 424.57,239.8 424.72,239.4 424.87,243.8 425.02,239.9 425.17,238.2 425.32,241.0 425.47,245.1 425.63,242.1 425.78,242.9 425.93,237.2 426.08,240.3 426.23,243.6 426.38,240.8 426.53,244.0 426.68,242.6 426.83,242.5 426.98,244.9 427.13,241.0 427.28,241.1 427.44,242.2 427.59,242.5 427.74,239.0 427.89,244.4 428.04,242.7 428.19,242.0 428.34,243.5 428.49,241.7 428.64,244.6 428.79,242.6 428.94,243.8 429.09,240.9 429.25,242.0 429.40,243.3 429.55,240.9 429.70,241.4 429.85,242.6 430.00,244.7 430.15,244.1 430.30,244.4 430.45,243.3 430.60,244.4 430.75,245.6 430.90,243.1 431.06,243.6 431.21,243.9 431.36,239.2 431.51,242.7 431.66,243.6 431.81,244.2 431.96,242.3 432.11,244.7 432.26,241.7 432.41,242.6 432.56,246.0 432.71,240.5 432.87,242.8 433.02,242.7 433.17,242.8 433.32,242.0 433.47,244.1 433.62,241.0 433.77,240.6 433.92,243.8 434.07,240.8 434.22,243.6 434.37,243.0 434.52,241.7 434.68,242.3 434.83,242.8 434.98,243.8 435.13,241.8 435.28,242.6 435.43,240.4 435.58,242.5 435.73,239.5 435.88,242.9 436.03,242.1 436.18,246.7 436.33,245.3 436.49,242.7 436.64,244.7 436.79,243.5 436.94,240.9 437.09,238.6 437.24,244.9 437.39,243.7 437.54,239.4 437.69,244.1 437.84,244.6 437.99,241.7 438.14,244.4 438.30,239.8 438.45,242.5 438.60,243.0 438.75,244.4 438.90,243.7 439.05,243.3 439.20,243.9 439.35,241.8 439.50,245.6 439.65,242.3 439.80,244.4 439.95,242.9 440.11,242.5 440.26,244.0 440.41,243.7 440.56,245.4 440.71,244.9 440.86,241.9 441.01,243.8 441.16,243.1 441.31,241.5 441.46,241.0 441.61,243.4 441.77,242.0 441.92,240.4 442.07,242.8 442.22,243.3 442.37,243.1 442.52,240.8 442.67,241.9 442.82,245.4 442.97,241.5 443.12,242.3 443.27,247.1 443.42,243.6 443.58,242.0 443.73,239.4 443.88,243.5 444.03,240.4 444.18,242.9 444.33,241.4 444.48,239.9 444.63,245.9 444.78,242.7 444.93,244.6 445.08,244.2 445.23,241.6 445.39,243.1 445.54,242.3 445.69,244.6 445.84,243.7 445.99,242.3 446.14,245.9 446.29,243.8 446.44,243.7 446.59,241.5 446.74,243.6 446.89,240.2 447.04,243.7 447.20,241.2 447.35,243.2 447.50,242.4 447.65,243.3 447.80,243.5 447.95,242.8 448.10,242.8 448.25,240.2 448.40,239.4 448.55,245.1 448.70,243.9 448.85,240.2 449.01,246.3 449.16,241.6 449.31,243.8 449.46,243.6 449.61,243.0 449.76,243.9 449.91,240.3 450.06,242.8 450.21,242.4 450.36,243.0 450.51,242.3 450.66,241.6 450.82,241.5 450.97,244.4 451.12,241.3 451.27,243.4 451.42,243.4 451.57,242.6 451.72,243.5 451.87,243.7 452.02,241.8 452.17,243.4 452.32,246.2 452.47,240.8 452.63,242.2 452.78,241.4 452.93,246.3 453.08,240.2 453.23,242.7 453.38,244.4 453.53,241.1 453.68,242.4 453.83,241.4 453.98,240.3 454.13,242.5 454.28,243.5 454.44,241.9 454.59,242.9 454.74,243.9 454.89,244.8 455.04,240.4 455.19,243.7 455.34,241.5 455.49,239.2 455.64,241.1 455.79,243.7 455.94,243.1 456.09,240.5 456.25,245.4 456.40,243.2 456.55,242.3 456.70,241.5 456.85,243.2 457.00,241.7 457.15,244.4 457.30,242.9 457.45,243.4 457.60,241.8 457.75,239.6 457.90,243.2 458.06,240.4 458.21,242.0 458.36,242.1 458.51,240.7 458.66,243.7 458.81,239.5 458.96,244.7 459.11,240.9 459.26,243.7 459.41,244.3 459.56,240.3 459.72,240.5 459.87,243.5 460.02,242.0 460.17,241.8 460.32,238.3 460.47,238.5 460.62,242.4 460.77,244.0 460.92,240.0 461.07,239.7 461.22,241.6 461.37,241.9 461.53,242.0 461.68,240.1 461.83,237.2 461.98,243.4 462.13,239.7 462.28,242.8 462.43,236.7 462.58,240.9 462.73,239.2 462.88,238.0 463.03,241.6 463.18,242.1 463.34,238.4 463.49,240.5 463.64,237.1 463.79,237.8 463.94,238.3 464.09,237.9 464.24,239.5 464.39,235.8 464.54,239.7 464.69,239.4 464.84,236.9 464.99,234.7 465.15,232.1 465.30,236.3 465.45,234.7 465.60,235.9 465.75,233.3 465.90,234.9 466.05,234.4 466.20,234.1 466.35,234.2 466.50,233.8 466.65,234.7 466.80,230.7 466.96,233.2 467.11,231.5 467.26,229.8 467.41,228.0 467.56,232.5 467.71,229.4 467.86,227.2 468.01,227.7 468.16,226.9 468.31,225.2 468.46,222.6 468.61,225.2 468.77,223.8 468.92,222.8 469.07,224.9 469.22,219.1 469.37,219.2 469.52,221.0 469.67,221.8 469.82,220.6 469.97,220.2 470.12,212.9 470.27,218.4 470.42,217.6 470.58,217.6 470.73,213.9 470.88,216.2 471.03,216.9 471.18,217.9 471.33,214.4 471.48,210.4 471.63,213.4 471.78,214.5 471.93,214.1 472.08,217.3 472.23,212.3 472.39,210.4 472.54,211.4 472.69,214.6 472.84,211.4 472.99,211.1 473.14,211.9 473.29,217.1 473.44,215.2 473.59,214.4 473.74,217.6 473.89,217.8 474.04,214.6 474.20,219.3 474.35,218.6 474.50,214.0 474.65,216.7 474.80,220.6 474.95,221.8 475.10,220.8 475.25,220.0 475.40,223.4 475.55,219.6 475.70,225.5 475.85,224.6 476.01,225.6 476.16,224.9 476.31,228.7 476.46,222.7 476.61,226.4 476.76,230.0 476.91,227.9 477.06,232.9 477.21,231.4 477.36,229.5 477.51,233.8 477.66,231.8 477.82,233.6 477.97,231.7 478.12,232.2 478.27,235.2 478.42,234.3 478.57,233.0 478.72,233.1 478.87,236.4 479.02,238.9 479.17,234.2 479.32,237.4 479.48,230.7 479.63,233.9 479.78,238.1 479.93,240.0 480.08,237.3 480.23,238.4 480.38,238.0 480.53,239.6 480.68,235.8 480.83,239.1 480.98,237.2 481.13,237.5 481.29,238.2 481.44,237.9 481.59,236.9 481.74,237.9 481.89,236.7 482.04,241.2 482.19,239.8 482.34,237.7 482.49,241.4 482.64,240.8 482.79,239.3 482.94,237.4 483.10,238.8 483.25,239.3 483.40,240.8 483.55,237.7 483.70,236.9 483.85,242.2 484.00,240.3 484.15,238.2 484.30,235.7 484.45,238.2 484.60,239.2 484.75,238.3 484.91,238.2 485.06,236.5 485.21,238.4 485.36,234.8 485.51,234.9 485.66,234.5 485.81,233.9 485.96,238.7 486.11,231.2 486.26,234.7 486.41,231.9 486.56,231.1 486.72,233.4 486.87,229.7 487.02,232.3 487.17,236.7 487.32,231.4 487.47,232.2 487.62,229.2 487.77,231.5 487.92,227.0 488.07,230.1 488.22,229.0 488.37,233.4 488.53,228.3 488.68,227.4 488.83,226.6 488.98,224.9 489.13,228.7 489.28,229.8 489.43,225.7 489.58,227.7 489.73,225.2 489.88,226.6 490.03,226.6 490.18,222.4 490.34,223.7 490.49,227.3 490.64,221.1 490.79,225.2 490.94,224.5 491.09,223.3 491.24,225.5 491.39,226.1 491.54,226.8 491.69,220.2 491.84,229.6 491.99,225.3 492.15,228.8 492.30,226.6 492.45,225.9 492.60,227.4 492.75,234.5 492.90,231.5 493.05,227.9 493.20,229.5 493.35,231.8 493.50,231.0 493.65,230.4 493.80,230.3 493.96,228.9 494.11,233.0 494.26,234.2 494.41,236.9 494.56,231.7 494.71,234.5 494.86,233.5 495.01,236.4 495.16,234.1 495.31,233.4 495.46,231.7 495.61,236.8 495.77,236.0 495.92,238.2 496.07,235.3 496.22,241.7 496.37,235.6 496.52,238.2 496.67,238.3 496.82,239.8 496.97,237.7 497.12,236.5 497.27,236.6 497.43,240.2 497.58,239.0 497.73,239.7 497.88,237.7 498.03,239.7 498.18,240.0 498.33,240.9 498.48,237.2 498.63,238.6 498.78,243.4 498.93,239.6 499.08,240.3 499.24,239.8 499.39,237.9 499.54,238.8 499.69,241.5 499.84,239.7 499.99,244.8 500.14,238.4 500.29,237.6 500.44,240.6 500.59,239.1 500.74,244.0 500.89,240.7 501.05,242.5 501.20,239.0 501.35,242.9 501.50,242.9 501.65,244.0 501.80,242.2 501.95,242.8 502.10,242.2 502.25,243.6 502.40,241.2 502.55,243.0 502.70,241.0 502.86,243.4 503.01,241.6 503.16,241.0 503.31,240.9 503.46,244.9 503.61,239.4 503.76,239.6 503.91,243.4 504.06,240.5 504.21,241.5 504.36,241.4 504.51,246.5 504.67,241.2 504.82,241.1 504.97,241.7 505.12,242.9 505.27,243.4 505.42,239.8 505.57,243.3 505.72,246.0 505.87,239.3 506.02,243.6 506.17,243.9 506.32,242.8 506.48,242.2 506.63,238.3 506.78,244.7 506.93,242.0 507.08,242.2 507.23,244.8 507.38,238.4 507.53,242.5 507.68,243.7 507.83,243.9 507.98,243.7 508.13,246.3 508.29,243.2 508.44,244.5 508.59,244.1 508.74,240.0 508.89,241.3 509.04,246.4 509.19,242.2 509.34,242.6 509.49,240.3 509.64,242.1 509.79,240.3 509.94,241.6 510.10,243.7 510.25,241.2 510.40,241.6 510.55,245.1 510.70,243.6 510.85,243.7 511.00,244.5 511.15,241.7 511.30,242.0 511.45,239.0 511.60,244.1 511.75,242.4 511.91,242.7 512.06,240.8 512.21,243.9 512.36,243.9 512.51,243.1 512.66,239.9 512.81,241.2 512.96,242.7 513.11,241.3 513.26,243.5 513.41,244.6 513.56,241.4 513.72,242.4 513.87,241.5 514.02,244.6 514.17,244.4 514.32,247.6 514.47,242.8 514.62,241.1 514.77,243.5 514.92,242.4 515.07,243.1 515.22,245.0 515.37,242.3 515.53,244.1 515.68,239.0 515.83,244.7 515.98,243.0 516.13,242.4 516.28,241.9 516.43,245.3 516.58,241.9 516.73,245.1 516.88,241.9 517.03,242.9 517.19,243.4 517.34,246.5 517.49,243.3 517.64,243.2 517.79,242.7 517.94,242.3 518.09,241.7 518.24,246.1 518.39,245.5 518.54,241.6 518.69,243.1 518.84,240.7 519.00,244.5 519.15,244.1 519.30,243.0 519.45,241.4 519.60,244.2 519.75,243.9 519.90,242.5 520.05,244.2 520.20,240.4 520.35,241.8 520.50,241.1 520.65,243.0 520.81,245.8 520.96,242.9 521.11,244.9 521.26,242.8 521.41,242.1 521.56,244.7 521.71,243.8 521.86,245.4 522.01,244.6 522.16,241.4 522.31,238.2 522.46,243.1 522.62,240.7 522.77,240.3 522.92,240.2 523.07,241.7 523.22,242.5 523.37,242.8 523.52,246.5 523.67,240.6 523.82,242.8 523.97,240.6 524.12,241.0 524.27,242.9 524.43,243.6 524.58,240.5 524.73,244.9 524.88,241.1 525.03,244.5 525.18,242.7 525.33,244.4 525.48,243.8 525.63,242.3 525.78,243.7 525.93,240.4 526.08,240.5 526.24,242.2 526.39,245.3 526.54,241.5 526.69,241.7 526.84,245.8 526.99,242.9 527.14,242.8 527.29,240.9 527.44,242.9 527.59,243.9 527.74,242.7 527.89,244.2 528.05,243.4 528.20,244.7 528.35,244.3 528.50,242.6 528.65,244.4 528.80,246.1 528.95,243.4 529.10,240.6 529.25,243.1 529.40,242.4 529.55,247.5 529.70,244.2 529.86,240.8 530.01,242.5 530.16,245.4 530.31,240.7 530.46,241.9 530.61,242.8 530.76,242.5 530.91,241.7 531.06,243.0 531.21,240.2 531.36,241.7 531.51,241.7 531.67,242.2 531.82,242.2 531.97,242.8 532.12,242.1 532.27,242.0 532.42,243.4 532.57,244.4 532.72,244.5 532.87,240.7 533.02,243.2 533.17,244.1 533.32,242.3 533.48,243.6 533.50,242.4 533.50,243.4 533.50,240.0 533.50,243.6 533.50,241.9"/>
<polyline fill="none" stroke="#f00" stroke-width="1" stroke-linejoin="round" points="44.50,311.5 44.50,310.6 44.50,310.7 44.50,308.0 44.60,313.7 44.75,312.8 44.91,310.9 45.06,312.3 45.21,311.7 45.36,310.5 45.51,312.6 45.66,310.9 45.81,310.8 45.96,310.2 46.11,311.9 46.26,311.2 46.41,312.0 46.56,310.5 46.72,311.5 46.87,310.1 47.02,312.4 47.17,311.5 47.32,311.7 47.47,311.8 47.62,309.9 47.77,312.3 47.92,314.1 48.07,309.1 48.22,308.9 48.37,309.2 48.53,312.4 48.68,311.5 48.83,312.7 48.98,312.3 49.13,311.6 49.28,311.7 49.43,311.0 49.58,312.5 49.73,309.8 49.88,310.7 50.03,311.6 50.18,313.7 50.34,310.2 50.49,309.8 50.64,310.5 50.79,312.6 50.94,311.0 51.09,313.1 51.24,308.7 51.39,312.8 51.54,312.7 51.69,309.4 51.84,311.5 51.99,312.9 52.15,311.4 52.30,312.6 52.45,314.5 52.60,311.6 52.75,310.9 52.90,310.2 53.05,312.1 53.20,311.0 53.35,311.0 53.50,311.1 53.65,312.1 53.80,309.8 53.96,309.2 54.11,308.0 54.26,312.9 54.41,311.4 54.56,313.3 54.71,311.2 54.86,310.3 55.01,311.9 55.16,311.2 55.31,309.6 55.46,310.1 55.61,313.6 55.77,311.7 55.92,311.8 56.07,310.9 56.22,310.3 56.37,312.5 56.52,311.1 56.67,310.2 56.82,311.1 56.97,310.0 57.12,311.5 57.27,312.8 57.42,310.1 57.58,313.2 57.73,310.3 57.88,311.5 58.03,310.1 58.18,310.9 58.33,311.3 58.48,310.7 58.63,310.3 58.78,310.3 58.93,310.1 59.08,309.1 59.23,310.9 59.39,311.8 59.54,312.5 59.69,312.1 59.84,314.6 59.99,311.7 60.14,310.6 60.29,313.8 60.44,309.8 60.59,312.5 60.74,310.0 60.89,311.7 61.04,308.6 61.20,312.5 61.35,311.0 61.50,309.9 61.65,313.5 61.80,312.3 61.95,311.3 62.10,310.2 62.25,311.2 62.40,311.0 62.55,312.2 62.70,312.3 62.85,310.3 63.01,310.5 63.16,310.5 63.31,309.4 63.46,310.4 63.61,311.1 63.76,312.2 63.91,313.0 64.06,310.1 64.21,312.0 64.36,310.6 64.51,314.0 64.67,311.2 64.82,311.9 64.97,310.0 65.12,310.1 65.27,311.5 65.42,310.7 65.57,311.7 65.72,309.1 65.87,312.1 66.02,310.0 66.17,313.5 66.32,310.8 66.48,312.7 66.63,309.3 66.78,311.8 66.93,310.0 67.08,310.6 67.23,311.2 67.38,310.8 67.53,311.6 67.68,312.2 67.83,312.1 67.98,311.1 68.13,309.4 68.29,310.1 68.44,310.9 68.59,308.3 68.74,312.2 68.89,310.9 69.04,310.9 69.19,312.5 69.34,312.1 69.49,311.5 69.64,309.8 69.79,311.6 69.94,311.7 70.10,310.0 70.25,312.6 70.40,311.9 70.55,308.5 70.70,311.4 70.85,309.5 71.00,312.7 71.15,312.3 71.30,309.7 71.45,310.0 71.60,311.3 71.75,310.9 71.91,313.2 72.06,312.2 72.21,310.8 72.36,312.0 72.51,308.4 72.66,311.6 72.81,312.4 72.96,310.9 73.11,310.2 73.26,311.9 73.41,313.8 73.56,311.5 73.72,309.7 73.87,313.1 74.02,308.6 74.17,311.9 74.32,310.4 74.47,312.4 74.62,310.0 74.77,313.0 74.92,311.6 75.07,308.8 75.22,308.5 75.37,310.7 75.53,312.9 75.68,311.3 75.83,311.3 75.98,310.8 76.13,312.2 76.28,311.7 76.43,311.5 76.58,309.8 76.73,312.8 76.88,313.0 77.03,309.4 77.18,314.3 77.34,312.1 77.49,310.5 77.64,308.6 77.79,312.0 77.94,311.9 78.09,310.3 78.24,308.7 78.39,312.7 78.54,310.3 78.69,310.5 78.84,315.0 78.99,314.0 79.15,312.4 79.30,310.5 79.45,312.0 79.60,308.0 79.75,311.3 79.90,310.1 80.05,309.4 80.20,309.0 80.35,311.8 80.50,311.2 80.65,311.3 80.80,312.2 80.96,310.0 81.11,309.4 81.26,308.7 81.41,310.6 81.56,312.1 81.71,310.9 81.86,312.0 82.01,309.5 82.16,310.4 82.31,310.0 82.46,309.4 82.62,313.6 82.77,312.2 82.92,310.0 83.07,310.0 83.22,311.0 83.37,309.1 83.52,311.6 83.67,309.3 83.82,310.6 83.97,309.7 84.12,310.4 84.27,309.2 84.43,308.9 84.58,309.7 84.73,310.1 84.88,310.6 85.03,311.1 85.18,313.1 85.33,312.1 85.48,310.7 85.63,312.0 85.78,310.1 85.93,313.0 86.08,311.7 86.24,309.2 86.39,312.0 86.54,312.1 86.69,307.3 86.84,310.0 86.99,310.3 87.14,308.3 87.29,309.5 87.44,309.7 87.59,311.6 87.74,311.3 87.89,314.5 88.05,310.4 88.20,312.5 88.35,311.0 88.50,311.3 88.65,309.3 88.80,308.3 88.95,309.8 89.10,311.9 89.25,313.0 89.40,311.7 89.55,311.5 89.70,309.7 89.86,312.9 90.01,312.6 90.16,310.1 90.31,310.7 90.46,309.4 90.61,312.8 90.76,311.3 90.91,310.6 91.06,311.3 91.21,311.3 91.36,310.1 91.51,309.0 91.67,308.9 91.82,308.3 91.97,311.3 92.12,313.7 92.27,308.3 92.42,310.8 92.57,311.1 92.72,309.2 92.87,310.8 93.02,309.0 93.17,312.1 93.32,309.7 93.48,310.6 93.63,311.4 93.78,309.8 93.93,307.9 94.08,309.6 94.23,311.4 94.38,310.2 94.53,310.6 94.68,308.8 94.83,310.4 94.98,311.2 95.13,310.2 95.29,312.7 95.44,309.8 95.59,308.6 95.74,307.8 95.89,311.5 96.04,309.8 96.19,311.2 96.34,310.4 96.49,312.0 96.64,311.4 96.79,309.1 96.94,310.0 97.10,311.0 97.25,307.7 97.40,311.4 97.55,311.0 97.70,310.6 97.85,308.9 98.00,309.5 98.15,307.4 98.30,309.0 98.45,308.0 98.60,308.8 98.75,307.9 98.91,308.9 99.06,310.0 99.21,306.4 99.36,309.4 99.51,305.1 99.66,304.7 99.81,307.5 99.96,307.5 100.11,307.9 100.26,304.7 100.41,306.8 100.56,306.9 100.72,308.3 100.87,306.1 101.02,306.8 101.17,304.3 101.32,305.2 101.47,304.5 101.62,305.9 101.77,303.1 101.92,302.9 102.07,304.7 102.22,306.1 102.38,303.6 102.53,303.0 102.68,301.6 102.83,303.3 102.98,301.9 103.13,303.2 103.28,300.4 103.43,297.7 103.58,297.7 103.73,296.2 103.88,295.0 104.03,298.4 104.19,296.8 104.34,292.4 104.49,296.6 104.64,292.9 104.79,289.8 104.94,291.0 105.09,289.0 105.24,286.4 105.39,283.0 105.54,285.2 105.69,284.2 105.84,277.3 106.00,281.7 106.15,280.2 106.30,276.4 106.45,275.9 106.60,273.3 106.75,270.4 106.90,269.6 107.05,271.4 107.20,263.7 107.35,265.5 107.50,263.7 107.65,260.1 107.81,259.1 107.96,255.5 108.11,255.3 108.26,256.0 108.41,255.6 108.56,251.9 108.71,260.3 108.86,251.3 109.01,252.6 109.16,251.6 109.31,251.2 109.46,255.4 109.62,251.8 109.77,256.6 109.92,257.0 110.07,253.0 110.22,258.9 110.37,256.4 110.52,265.4 110.67,260.0 110.82,260.4 110.97,260.0 111.12,263.1 111.27,266.4 111.43,267.4 111.58,268.7 111.73,271.6 111.88,274.4 112.03,279.4 112.18,274.8 112.33,278.8 112.48,279.6 112.63,280.1 112.78,282.1 112.93,284.2 113.08,288.5 113.24,288.1 113.39,288.7 113.54,291.9 113.69,292.4 113.84,292.6 113.99,294.6 114.14,293.5 114.29,296.8 114.44,297.4 114.59,296.8 114.74,296.2 114.89,301.3 115.05,299.7 115.20,305.0 115.35,299.7 115.50,302.6 115.65,301.1 115.80,302.7 115.95,304.0 116.10,302.0 116.25,303.4 116.40,304.2 116.55,304.5 116.70,305.5 116.86,306.5 117.01,306.5 117.16,305.9 117.31,305.3 117.46,304.4 117.61,305.2 117.76,305.8 117.91,307.7 118.06,306.4 118.21,305.3 118.36,308.2 118.51,306.3 118.67,306.5 118.82,307.5 118.97,308.6 119.12,304.6 119.27,306.6 119.42,308.5 119.57,307.9 119.72,307.3 119.87,307.9 120.02,310.7 120.17,308.2 120.33,309.9 120.48,310.1 120.63,308.4 120.78,309.8 120.93,308.6 121.08,308.4 121.23,307.8 121.38,310.6 121.53,308.9 121.68,308.8 121.83,308.0 121.98,312.1 122.14,310.7 122.29,309.5 122.44,308.8 122.59,307.7 122.74,310.2 122.89,310.3 123.04,308.0 123.19,311.5 123.34,311.0 123.49,308.7 123.64,309.3 123.79,309.5 123.95,310.3 124.10,309.9 124.25,307.9 124.40,312.2 124.55,310.6 124.70,311.9 124.85,311.9 125.00,310.0 125.15,310.7 125.30,311.3 125.45,311.3 125.60,310.1 125.76,309.5 125.91,310.4 126.06,309.2 126.21,309.6 126.36,307.6 126.51,310.5 126.66,309.0 126.81,309.6 126.96,310.3 127.11,310.8 127.26,313.0 127.41,310.7 127.57,308.5 127.72,310.6 127.87,309.6 128.02,311.0 128.17,309.5 128.32,309.5 128.47,309.7 128.62,309.6 128.77,307.9 128.92,309.5 129.07,310.4 129.22,312.1 129.38,310.0 129.53,309.9 129.68,311.2 129.83,311.1 129.98,312.6 130.13,311.2 130.28,310.4 130.43,312.2 130.58,312.4 130.73,309.7 130.88,310.5 131.03,308.0 131.19,309.8 131.34,309.1 131.49,310.0 131.64,309.6 131.79,310.0 131.94,310.1 132.09,310.9 132.24,310.5 132.39,309.4 132.54,308.4 132.69,311.8 132.84,312.0 133.00,309.4 133.15,310.8 133.30,307.9 133.45,307.8 133.60,309.5 133.75,311.9 133.90,308.4 134.05,308.6 134.20,311.9 134.35,307.0 134.50,310.5 134.65,310.2 134.81,309.2 134.96,309.7 135.11,313.0 135.26,307.7 135.41,308.7 135.56,308.8 135.71,308.0 135.86,307.0 136.01,311.0 136.16,309.0 136.31,306.1 136.46,307.5 136.62,308.9 136.77,308.8 136.92,306.0 137.07,307.8 137.22,308.1 137.37,308.2 137.52,308.0 137.67,304.6 137.82,309.7 137.97,307.1 138.12,309.2 138.27,310.5 138.43,305.9 138.58,304.0 138.73,306.8 138.88,305.0 139.03,304.3 139.18,303.1 139.33,306.8 139.48,303.3 139.63,301.5 139.78,302.5 139.93,301.0 140.09,302.6 140.24,301.3 140.39,299.8 140.54,302.0 140.69,299.5 140.84,301.2 140.99,301.6 141.14,298.5 141.29,297.6 141.44,298.4 141.59,299.1 141.74,297.1 141.90,296.9 142.05,296.2 142.20,296.3 142.35,296.5 142.50,293.9 142.65,293.9 142.80,294.5 142.95,293.1 143.10,294.2 143.25,294.7 143.40,293.7 143.55,292.7 143.71,292.4 143.86,296.7 144.01,295.4 144.16,292.2 144.31,292.9 144.46,297.7 144.61,297.4 144.76,295.4 144.91,297.5 145.06,293.5 145.21,296.4 145.36,298.1 145.52,294.3 145.67,296.6 145.82,299.6 145.97,300.6 146.12,298.4 146.27,300.2 146.42,302.8 146.57,300.2 146.72,299.1 146.87,301.6 147.02,301.5 147.17,304.5 147.33,303.2 147.48,302.2 147.63,307.4 147.78,303.4 147.93,305.2 148.08,305.8 148.23,306.3 148.38,305.7 148.53,306.6 148.68,305.9 148.83,304.2 148.98,306.2 149.14,306.4 149.29,306.7 149.44,307.3 149.59,306.5 149.74,309.4 149.89,309.9 150.04,304.8 150.19,308.0 150.34,307.2 150.49,304.6 150.64,309.0 150.79,307.7 150.95,308.2 151.10,307.9 151.25,310.4 151.40,310.7 151.55,309.5 151.70,310.2 151.85,309.1 152.00,309.5 152.15,308.4 152.30,309.5 152.45,308.6 152.60,310.1 152.76,310.8 152.91,310.2 153.06,311.4 153.21,313.6 153.36,307.0 153.51,310.0 153.66,309.2 153.81,309.4 153.96,308.2 154.11,310.2 154.26,309.8 154.41,309.3 154.57,309.9 154.72,309.4 154.87,307.1 155.02,311.8 155.17,309.9 155.32,309.1 155.47,310.8 155.62,309.5 155.77,307.5 155.92,311.6 156.07,308.2 156.22,310.2 156.38,310.7 156.53,312.4 156.68,312.1 156.83,310.8 156.98,309.5 157.13,310.0 157.28,312.1 157.43,313.0 157.58,311.4 157.73,309.8 157.88,312.0 158.04,310.1 158.19,310.1 158.34,310.3 158.49,311.5 158.64,311.1 158.79,312.0 158.94,312.5 159.09,311.4 159.24,307.6 159.39,308.4 159.54,311.0 159.69,310.7 159.85,313.7 160.00,310.7 160.15,310.6 160.30,312.0 160.45,312.2 160.60,310.5 160.75,311.4 160.90,309.3 161.05,309.5 161.20,312.5 161.35,308.9 161.50,312.1 161.66,311.7 161.81,311.9 161.96,312.1 162.11,311.6 162.26,307.9 162.41,309.5 162.56,310.0 162.71,312.1 162.86,309.3 163.01,309.9 163.16,310.4 163.31,312.6 163.47,308.9 163.62,309.0 163.77,311.7 163.92,308.0 164.07,311.3 164.22,310.3 164.37,308.7 164.52,310.3 164.67,309.5 164.82,311.1 164.97,311.4 165.12,312.9 165.28,310.9 165.43,311.0 165.58,310.1 165.73,310.9 165.88,312.3 166.03,308.3 166.18,311.8 166.33,310.2 166.48,311.0 166.63,311.3 166.78,312.0 166.93,311.2 167.09,310.4 167.24,311.3 167.39,310.9 167.54,310.6 167.69,311.2 167.84,312.1 167.99,311.1 168.14,311.1 168.29,309.2 168.44,310.7 168.59,308.4 168.74,311.9 168.90,309.6 169.05,312.7 169.20,315.0 169.35,310.4 169.50,312.7 169.65,311.5 169.80,310.2 169.95,309.8 170.10,311.7 170.25,312.8 170.40,311.4 170.55,308.9 170.71,309.5 170.86,310.6 171.01,312.7 171.16,311.3 171.31,311.4 171.46,312.6 171.61,310.6 171.76,310.8 171.91,310.7 172.06,308.5 172.21,311.5 172.36,311.5 172.52,312.2 172.67,309.3 172.82,309.8 172.97,312.2 173.12,311.4 173.27,312.8 173.42,309.8 173.57,311.2 173.72,310.0 173.87,311.3 174.02,310.3 174.17,311.6 174.33,312.4 174.48,311.8 174.63,308.5 174.78,312.2 174.93,311.5 175.08,309.5 175.23,309.7 175.38,310.9 175.53,311.7 175.68,310.3 175.83,308.7 175.98,311.3 176.14,311.1 176.29,314.2 176.44,309.2 176.59,314.3 176.74,313.3 176.89,311.3 177.04,313.2 177.19,311.0 177.34,312.2 177.49,309.9 177.64,311.0 177.80,309.5 177.95,308.8 178.10,310.6 178.25,310.0 178.40,311.7 178.55,312.6 178.70,310.7 178.85,311.0 179.00,311.2 179.15,308.7 179.30,311.3 179.45,310.9 179.61,310.9 179.76,309.4 179.91,308.2 180.06,310.6 180.21,311.3 180.36,312.7 180.51,312.4 180.66,312.9 180.81,311.4 180.96,312.5 181.11,310.6 181.26,311.8 181.42,312.2 181.57,314.5 181.72,311.2 181.87,309.2 182.02,312.8 182.17,309.8 182.32,310.8 182.47,310.5 182.62,309.7 182.77,312.7 182.92,311.7 183.07,310.1 183.23,311.0 183.38,310.3 183.53,311.7 183.68,310.4 183.83,309.9 183.98,310.0 184.13,310.3 184.28,311.3 184.43,309.7 184.58,310.8 184.73,311.5 184.88,314.1 185.04,312.1 185.19,306.9 185.34,310.2 185.49,310.4 185.64,311.3 185.79,313.0 185.94,311.9 186.09,307.8 186.24,311.3 186.39,311.1 186.54,311.5 186.69,312.7 186.85,309.4 187.00,312.4 187.15,308.7 187.30,311.0 187.45,311.4 187.60,314.0 187.75,310.0 187.90,308.6 188.05,311.8 188.20,310.0 188.35,313.0 188.50,309.9 188.66,309.7 188.81,312.6 188.96,311.0 189.11,312.2 189.26,309.0 189.41,313.1 189.56,310.1 189.71,312.0 189.86,309.5 190.01,308.8 190.16,310.5 190.31,311.1 190.47,313.0 190.62,311.4 190.77,311.9 190.92,311.8 191.07,315.1 191.22,309.8 191.37,312.6 191.52,310.7 191.67,311.2 191.82,310.2 191.97,312.5 192.12,309.2 192.28,309.1 192.43,310.6 192.58,309.3 192.73,311.8 192.88,312.1 193.03,309.9 193.18,311.9 193.33,310.0 193.48,310.8 193.63,310.9 193.78,313.4 193.93,310.9 194.09,309.7 194.24,309.6 194.39,312.5 194.54,308.6 194.69,310.2 194.84,310.4 194.99,307.6 195.14,310.2 195.29,312.2 195.44,311.2 195.59,309.7 195.75,311.8 195.90,311.6 196.05,313.6 196.20,309.9 196.35,310.4 196.50,310.9 196.65,310.7 196.80,311.0 196.95,310.7 197.10,309.9 197.25,308.7 197.40,310.1 197.56,309.0 197.71,309.5 197.86,310.1 198.01,311.5 198.16,312.0 198.31,309.5 198.46,311.3 198.61,311.9 198.76,310.8 198.91,308.6 199.06,307.9 199.21,311.9 199.37,312.1 199.52,311.2 199.67,309.4 199.82,312.8 199.97,312.5 200.12,310.8 200.27,310.5 200.42,308.2 200.57,311.8 200.72,308.6 200.87,311.7 201.02,311.8 201.18,310.9 201.33,313.0 201.48,310.4 201.63,311.6 201.78,311.9 201.93,311.2 202.08,310.2 202.23,312.5 202.38,311.4 202.53,310.6 202.68,310.6 202.83,311.0 202.99,313.9 203.14,311.0 203.29,310.5 203.44,309.4 203.59,309.2 203.74,308.2 203.89,311.1 204.04,310.8 204.19,309.4 204.34,308.8 204.49,310.4 204.64,310.1 204.80,309.0 204.95,311.2 205.10,311.0 205.25,310.7 205.40,311.8 205.55,309.9 205.70,312.6 205.85,309.4 206.00,311.5 206.15,311.6 206.30,310.4 206.45,311.2 206.61,309.0 206.76,308.7 206.91,310.5 207.06,309.7 207.21,311.5 207.36,310.8 207.51,311.5 207.66,311.1 207.81,311.0 207.96,310.8 208.11,310.2 208.26,310.0 208.42,313.4 208.57,308.3 208.72,310.4 208.87,312.0 209.02,311.2 209.17,312.5 209.32,311.3 209.47,308.8 209.62,310.0 209.77,308.5 209.92,311.8 210.07,312.3 210.23,309.7 210.38,311.0 210.53,309.6 210.68,308.2 210.83,309.4 210.98,307.8 211.13,309.1 211.28,310.0 211.43,310.6 211.58,311.2 211.73,308.8 211.88,309.4 212.04,309.4 212.19,309.4 212.34,304.3 212.49,306.9 212.64,308.9 212.79,305.8 212.94,307.5 213.09,308.0 213.24,303.8 213.39,306.0 213.54,306.5 213.69,306.1 213.85,303.8 214.00,306.6 214.15,305.4 214.30,307.6 214.45,307.3 214.60,306.2 214.75,307.5 214.90,306.6 215.05,306.9 215.20,306.0 215.35,308.1 215.51,309.8 215.66,309.1 215.81,309.1 215.96,308.4 216.11,308.7 216.26,310.6 216.41,307.7 216.56,312.6 216.71,309.8 216.86,313.0 217.01,311.7 217.16,309.6 217.32,311.2 217.47,310.6 217.62,310.9 217.77,311.4 217.92,309.6 218.07,309.5 218.22,309.8 218.37,308.5 218.52,310.1 218.67,310.7 218.82,310.8 218.97,310.7 219.13,309.9 219.28,311.5 219.43,307.7 219.58,309.9 219.73,310.0 219.88,311.7 220.03,311.4 220.18,311.6 220.33,310.5 220.48,311.8 220.63,309.1 220.78,310.6 220.94,307.6 221.09,312.8 221.24,312.6 221.39,309.7 221.54,309.3 221.69,307.7 221.84,308.4 221.99,310.7 222.14,310.3 222.29,308.5 222.44,309.8 222.59,309.6 222.75,311.1 222.90,311.5 223.05,310.2 223.20,310.6 223.35,310.5 223.50,307.7 223.65,310.7 223.80,310.4 223.95,311.5 224.10,308.0 224.25,311.5 224.40,309.6 224.56,310.8 224.71,312.1 224.86,308.5 225.01,308.7 225.16,311.8 225.31,308.9 225.46,309.2 225.61,311.3 225.76,310.2 225.91,311.5 226.06,310.9 226.21,310.4 226.37,311.8 226.52,313.4 226.67,310.3 226.82,312.4 226.97,312.0 227.12,310.6 227.27,311.1 227.42,309.2 227.57,309.6 227.72,310.8 227.87,310.4 228.02,312.2 228.18,308.6 228.33,310.0 228.48,309.5 228.63,310.2 228.78,312.0 228.93,308.8 229.08,311.5 229.23,309.6 229.38,309.9 229.53,311.7 229.68,310.0 229.83,311.3 229.99,310.5 230.14,310.1 230.29,309.8 230.44,308.0 230.59,309.3 230.74,310.5 230.89,310.6 231.04,308.3 231.19,311.7 231.34,311.1 231.49,308.5 231.64,308.9 231.80,311.0 231.95,307.9 232.10,309.2 232.25,310.2 232.40,310.1 232.55,310.1 232.70,310.7 232.85,309.1 233.00,309.5 233.15,313.0 233.30,308.3 233.46,309.5 233.61,310.3 233.76,309.3 233.91,311.8 234.06,310.2 234.21,311.1 234.36,306.5 234.51,311.7 234.66,311.6 234.81,309.0 234.96,311.8 235.11,310.4 235.27,311.2 235.42,312.4 235.57,310.1 235.72,308.5 235.87,309.9 236.02,308.1 236.17,308.8 236.32,308.8 236.47,308.8 236.62,311.4 236.77,310.9 236.92,308.5 237.08,311.3 237.23,307.4 237.38,308.7 237.53,309.4 237.68,311.2 237.83,310.5 237.98,310.1 238.13,311.3 238.28,310.4 238.43,311.3 238.58,308.3 238.73,307.0 238.89,308.7 239.04,310.3 239.19,309.5 239.34,310.3 239.49,310.0 239.64,309.7 239.79,310.1 239.94,307.9 240.09,310.3 240.24,307.3 240.39,308.5 240.54,306.6 240.70,309.2 240.85,306.2 241.00,310.3 241.15,306.3 241.30,308.5 241.45,307.8 241.60,306.7 241.75,309.5 241.90,307.1 242.05,309.6 242.20,305.9 242.35,306.1 242.51,304.3 242.66,307.8 242.81,308.1 242.96,307.0 243.11,306.2 243.26,305.0 243.41,309.5 243.56,307.0 243.71,303.0 243.86,305.0 244.01,301.4 244.16,307.3 244.32,307.6 244.47,306.6 244.62,304.1 244.77,302.9 244.92,301.4 245.07,304.0 245.22,301.7 245.37,301.9 245.52,301.1 245.67,301.2 245.82,302.6 245.97,303.4 246.13,300.5 246.28,299.8 246.43,297.5 246.58,296.8 246.73,296.5 246.88,299.0 247.03,297.4 247.18,297.9 247.33,296.4 247.48,294.3 247.63,292.2 247.78,292.9 247.94,290.3 248.09,295.4 248.24,291.6 248.39,289.7 248.54,293.0 248.69,287.9 248.84,288.7 248.99,286.5 249.14,286.5 249.29,284.3 249.44,285.0 249.59,285.8 249.75,279.8 249.90,277.1 250.05,283.1 250.20,280.0 250.35,280.6 250.50,277.6 250.65,280.5 250.80,280.4 250.95,273.8 251.10,277.0 251.25,274.0 251.40,271.6 251.56,273.9 251.71,275.5 251.86,271.4 252.01,271.5 252.16,276.7 252.31,274.4 252.46,275.3 252.61,272.5 252.76,273.9 252.91,275.9 253.06,276.6 253.22,277.1 253.37,280.6 253.52,278.5 253.67,275.9 253.82,278.0 253.97,280.4 254.12,283.8 254.27,280.9 254.42,282.4 254.57,284.0 254.72,283.6 254.87,284.3 255.03,286.3 255.18,289.4 255.33,289.4 255.48,288.9 255.63,291.0 255.78,288.8 255.93,293.6 256.08,294.0 256.23,294.0 256.38,291.4 256.53,298.3 256.68,290.7 256.84,294.6 256.99,295.4 257.14,298.7 257.29,295.7 257.44,299.1 257.59,299.0 257.74,299.3 257.89,301.6 258.04,302.9 258.19,301.8 258.34,301.1 258.49,298.4 258.65,304.6 258.80,302.3 258.95,300.3 259.10,303.7 259.25,305.9 259.40,303.8 259.55,302.6 259.70,308.0 259.85,305.8 260.00,305.6 260.15,306.9 260.30,302.4 260.46,305.7 260.61,305.7 260.76,309.5 260.91,305.5 261.06,305.7 261.21,304.7 261.36,305.7 261.51,306.7 261.66,307.5 261.81,307.0 261.96,310.3 262.11,308.3 262.27,308.6 262.42,309.7 262.57,308.8 262.72,307.3 262.87,305.9 263.02,308.7 263.17,307.1 263.32,310.2 263.47,307.4 263.62,305.4 263.77,308.7 263.92,310.2 264.08,308.5 264.23,309.1 264.38,309.1 264.53,311.4 264.68,309.4 264.83,309.0 264.98,308.2 265.13,306.8 265.28,311.2 265.43,310.8 265.58,307.9 265.73,310.2 265.89,309.8 266.04,308.9 266.19,309.0 266.34,310.5 266.49,307.8 266.64,308.8 266.79,309.5 266.94,309.6 267.09,309.3 267.24,310.0 267.39,310.4 267.54,308.5 267.70,309.8 267.85,309.0 268.00,311.9 268.15,307.8 268.30,309.5 268.45,310.8 268.60,309.5 268.75,309.4 268.90,309.2 269.05,310.4 269.20,308.3 269.35,309.8 269.51,309.8 269.66,308.0 269.81,310.4 269.96,309.4 270.11,310.5 270.26,311.2 270.41,310.5 270.56,308.5 270.71,310.5 270.86,307.9 271.01,309.1 271.17,312.4 271.32,310.2 271.47,312.3 271.62,309.9 271.77,310.2 271.92,308.7 272.07,311.5 272.22,309.9 272.37,311.1 272.52,310.8 272.67,311.0 272.82,310.7 272.98,310.2 273.13,310.3 273.28,309.3 273.43,307.4 273.58,311.0 273.73,313.2 273.88,311.8 274.03,313.6 274.18,311.0 274.33,309.0 274.48,309.0 274.63,311.4 274.79,310.9 274.94,310.2 275.09,311.4 275.24,309.2 275.39,311.1 275.54,310.0 275.69,310.6 275.84,312.1 275.99,310.3 276.14,312.3 276.29,312.3 276.44,309.4 276.60,313.7 276.75,308.8 276.90,310.3 277.05,311.5 277.20,307.4 277.35,311.9 277.50,312.1 277.65,310.3 277.80,310.9 277.95,310.8 278.10,310.2 278.25,312.0 278.41,310.0 278.56,310.5 278.71,311.0 278.86,311.7 279.01,312.0 279.16,308.5 279.31,307.7 279.46,310.3 279.61,310.4 279.76,309.0 279.91,310.9 280.06,311.4 280.22,311.1 280.37,312.8 280.52,309.1 280.67,310.6 280.82,313.2 280.97,311.5 281.12,309.0 281.27,310.8 281.42,312.2 281.57,313.4 281.72,311.4 281.87,312.1 282.03,309.0 282.18,310.2 282.33,312.2 282.48,309.2 282.63,310.4 282.78,308.0 282.93,312.6 283.08,310.4 283.23,311.3 283.38,308.5 283.53,308.7 283.68,313.0 283.84,310.1 283.99,309.8 284.14,311.2 284.29,311.3 284.44,307.8 284.59,309.2 284.74,310.6 284.89,310.5 285.04,311.0 285.19,309.9 285.34,310.1 285.49,310.8 285.65,309.6 285.80,309.4 285.95,309.8 286.10,310.5 286.25,310.3 286.40,309.9 286.55,310.2 286.70,310.4 286.85,311.0 287.00,311.0 287.15,308.7 287.30,311.8 287.46,308.3 287.61,311.3 287.76,309.5 287.91,311.3 288.06,312.0 288.21,307.9 288.36,311.3 288.51,310.9 288.66,309.9 288.81,311.0 288.96,309.8 289.11,310.6 289.27,309.0 289.42,311.6 289.57,311.3 289.72,311.5 289.87,309.6 290.02,313.0 290.17,313.2 290.32,310.3 290.47,309.9 290.62,309.9 290.77,311.4 290.93,311.9 291.08,309.4 291.23,307.7 291.38,311.1 291.53,310.4 291.68,310.7 291.83,311.1 291.98,308.9 292.13,310.5 292.28,310.0 292.43,310.9 292.58,312.1 292.74,310.4 292.89,309.2 293.04,312.1 293.19,311.4 293.34,310.1 293.49,307.9 293.64,309.2 293.79,310.6 293.94,311.1 294.09,309.6 294.24,311.0 294.39,309.5 294.55,309.8 294.70,311.1 294.85,310.0 295.00,310.5 295.15,311.5 295.30,311.9 295.45,309.5 295.60,310.0 295.75,308.5 295.90,308.5 296.05,310.7 296.20,309.6 296.36,307.7 296.51,311.0 296.66,309.1 296.81,309.8 296.96,310.8 297.11,310.8 297.26,310.2 297.41,307.5 297.56,311.0 297.71,309.4 297.86,308.3 298.01,307.2 298.17,312.0 298.32,310.4 298.47,310.3 298.62,311.0 298.77,310.0 298.92,308.1 299.07,311.1 299.22,311.5 299.37,310.8 299.52,312.2 299.67,312.7 299.82,309.0 299.98,309.5 300.13,311.3 300.28,310.3 300.43,310.3 300.58,311.3 300.73,311.0 300.88,309.4 301.03,310.1 301.18,309.0 301.33,309.7 301.48,308.4 301.63,307.2 301.79,309.2 301.94,309.1 302.09,311.1 302.24,312.0 302.39,309.8 302.54,310.4 302.69,308.9 302.84,308.5 302.99,309.3 303.14,309.3 303.29,310.1 303.44,309.8 303.60,311.9 303.75,309.3 303.90,307.3 304.05,309.7 304.20,308.6 304.35,309.8 304.50,311.0 304.65,308.5 304.80,309.3 304.95,310.0 305.10,308.0 305.25,309.5 305.41,310.0 305.56,310.3 305.71,310.6 305.86,309.8 306.01,309.6 306.16,307.0 306.31,305.2 306.46,307.5 306.61,310.8 306.76,308.9 306.91,305.5 307.06,308.0 307.22,309.0 307.37,305.8 307.52,309.2 307.67,306.7 307.82,309.6 307.97,308.1 308.12,312.4 308.27,306.0 308.42,308.2 308.57,305.6 308.72,309.2 308.88,307.6 309.03,308.6 309.18,307.4 309.33,305.4 309.48,306.0 309.63,305.0 309.78,305.1 309.93,306.7 310.08,307.8 310.23,307.3 310.38,306.7 310.53,304.9 310.69,306.2 310.84,304.0 310.99,305.4 311.14,306.0 311.29,304.3 311.44,303.6 311.59,303.4 311.74,304.6 311.89,303.0 312.04,301.0 312.19,302.1 312.34,300.8 312.50,304.3 312.65,301.7 312.80,299.0 312.95,301.3 313.10,301.5 313.25,300.6 313.40,298.9 313.55,299.3 313.70,299.0 313.85,299.6 314.00,298.0 314.15,300.5 314.31,295.9 314.46,298.2 314.61,295.1 314.76,291.6 314.91,291.8 315.06,290.0 315.21,289.5 315.36,293.8 315.51,289.9 315.66,291.3 315.81,288.0 315.96,288.8 316.12,286.3 316.27,289.0 316.42,286.3 316.57,285.2 316.72,285.1 316.87,288.7 317.02,284.9 317.17,285.0 317.32,280.6 317.47,281.2 317.62,282.5 317.77,278.0 317.93,283.6 318.08,281.3 318.23,280.4 318.38,279.9 318.53,279.7 318.68,279.1 318.83,282.7 318.98,281.4 319.13,282.5 319.28,279.8 319.43,278.9 319.58,283.4 319.74,278.9 319.89,280.5 320.04,283.4 320.19,284.6 320.34,280.7 320.49,283.2 320.64,284.3 320.79,284.7 320.94,284.0 321.09,287.5 321.24,286.0 321.39,287.2 321.55,284.4 321.70,288.9 321.85,286.4 322.00,291.7 322.15,292.1 322.30,291.0 322.45,292.9 322.60,293.5 322.75,293.7 322.90,295.2 323.05,295.0 323.20,295.0 323.36,295.1 323.51,299.7 323.66,297.8 323.81,298.0 323.96,299.7 324.11,298.5 324.26,298.9 324.41,301.0 324.56,302.0 324.71,301.9 324.86,299.0 325.01,301.7 325.17,302.0 325.32,303.1 325.47,301.4 325.62,301.4 325.77,303.2 325.92,302.3 326.07,302.3 326.22,304.1 326.37,305.8 326.52,304.8 326.67,306.5 326.82,303.6 326.98,306.3 327.13,305.5 327.28,304.4 327.43,305.2 327.58,304.8 327.73,305.8 327.88,305.2 328.03,308.2 328.18,306.1 328.33,304.7 328.48,306.5 328.64,307.5 328.79,306.6 328.94,308.3 329.09,305.9 329.24,306.1 329.39,309.7 329.54,307.5 329.69,308.3 329.84,308.3 329.99,308.4 330.14,307.7 330.29,307.5 330.45,309.3 330.60,307.1 330.75,308.0 330.90,308.8 331.05,307.3 331.20,305.8 331.35,308.6 331.50,309.4 331.65,308.3 331.80,305.6 331.95,308.8 332.10,310.7 332.26,305.8 332.41,304.2 332.56,307.5 332.71,308.0 332.86,308.9 333.01,308.9 333.16,307.9 333.31,308.5 333.46,308.1 333.61,307.8 333.76,307.5 333.91,307.3 334.07,308.4 334.22,308.0 334.37,306.7 334.52,308.8 334.67,306.2 334.82,306.8 334.97,307.2 335.12,304.3 335.27,306.4 335.42,308.0 335.57,307.9 335.72,305.0 335.88,305.5 336.03,305.1 336.18,306.2 336.33,306.4 336.48,304.2 336.63,306.9 336.78,306.5 336.93,306.3 337.08,305.4 337.23,306.1 337.38,303.8 337.53,306.7 337.69,306.7 337.84,306.2 337.99,304.8 338.14,308.3 338.29,308.1 338.44,304.0 338.59,307.2 338.74,306.9 338.89,303.2 339.04,307.6 339.19,307.9 339.34,308.0 339.50,307.4 339.65,306.3 339.80,306.6 339.95,308.1 340.10,309.1 340.25,307.0 340.40,307.3 340.55,308.8 340.70,305.0 340.85,308.6 341.00,307.8 341.15,305.2 341.31,309.3 341.46,307.1 341.61,309.5 341.76,310.4 341.91,306.9 342.06,307.1 342.21,308.8 342.36,306.5 342.51,309.9 342.66,309.2 342.81,310.4 342.96,306.7 343.12,309.4 343.27,309.9 343.42,306.9 343.57,310.5 343.72,307.5 343.87,309.7 344.02,307.7 344.17,310.6 344.32,311.8 344.47,309.7 344.62,309.7 344.77,311.4 344.93,309.1 345.08,309.8 345.23,310.9 345.38,310.4 345.53,311.9 345.68,311.5 345.83,312.5 345.98,309.9 346.13,311.5 346.28,308.9 346.43,311.2 346.59,312.4 346.74,313.2 346.89,308.4 347.04,309.9 347.19,311.1 347.34,309.0 347.49,310.9 347.64,310.9 347.79,309.6 347.94,309.5 348.09,309.0 348.24,310.7 348.40,311.9 348.55,310.7 348.70,314.0 348.85,308.3 349.00,309.5 349.15,311.2 349.30,308.8 349.45,310.8 349.60,311.4 349.75,310.6 349.90,310.1 350.05,311.6 350.21,310.9 350.36,311.3 350.51,311.1 350.66,309.5 350.81,308.9 350.96,309.9 351.11,310.6 351.26,310.2 351.41,311.7 351.56,310.8 351.71,311.7 351.86,310.6 352.02,309.5 352.17,311.5 352.32,311.1 352.47,309.3 352.62,309.9 352.77,314.1 352.92,305.9 353.07,311.9 353.22,310.5 353.37,310.3 353.52,310.0 353.67,309.8 353.83,313.6 353.98,309.8 354.13,310.0 354.28,311.5 354.43,310.9 354.58,310.2 354.73,310.1 354.88,308.7 355.03,311.9 355.18,309.0 355.33,307.2 355.48,311.8 355.64,311.4 355.79,310.9 355.94,309.7 356.09,312.0 356.24,309.0 356.39,307.5 356.54,310.6 356.69,311.5 356.84,311.3 356.99,313.2 357.14,311.5 357.29,310.1 357.45,310.2 357.60,311.6 357.75,310.3 357.90,310.2 358.05,308.1 358.20,310.0 358.35,308.7 358.50,310.7 358.65,310.6 358.80,311.4 358.95,312.8 359.10,310.2 359.26,312.4 359.41,308.9 359.56,310.6 359.71,311.7 359.86,313.1 360.01,308.9 360.16,310.1 360.31,310.6 360.46,310.3 360.61,309.1 360.76,308.2 360.91,308.8 361.07,310.3 361.22,308.6 361.37,312.8 361.52,312.1 361.67,307.9 361.82,309.8 361.97,312.2 362.12,312.4 362.27,311.9 362.42,308.5 362.57,309.9 362.72,312.2 362.88,310.6 363.03,309.8 363.18,311.1 363.33,311.8 363.48,310.6 363.63,310.8 363.78,311.9 363.93,309.7 364.08,309.2 364.23,311.5 364.38,308.8 364.53,311.1 364.69,309.4 364.84,311.6 364.99,308.8 365.14,312.0 365.29,310.8 365.44,310.0 365.59,309.3 365.74,310.2 365.89,309.2 366.04,308.8 366.19,311.9 366.35,311.2 366.50,312.1 366.65,308.6 366.80,307.8 366.95,308.3 367.10,311.3 367.25,311.5 367.40,307.9 367.55,311.8 367.70,309.8 367.85,308.8 368.00,310.3 368.16,311.2 368.31,310.1 368.46,310.2 368.61,309.3 368.76,308.5 368.91,309.9 369.06,308.2 369.21,311.2 369.36,309.3 369.51,312.2 369.66,308.3 369.81,312.3 369.97,309.2 370.12,309.2 370.27,310.8 370.42,311.6 370.57,310.3 370.72,309.9 370.87,313.1 371.02,311.1 371.17,308.8 371.32,310.0 371.47,312.7 371.62,310.8 371.78,311.5 371.93,313.2 372.08,309.6 372.23,310.9 372.38,309.5 372.53,310.4 372.68,311.1 372.83,308.6 372.98,310.6 373.13,310.6 373.28,311.8 373.43,309.6 373.59,308.7 373.74,310.9 373.89,308.9 374.04,310.6 374.19,311.2 374.34,309.2 374.49,310.2 374.64,309.0 374.79,306.5 374.94,308.4 375.09,307.6 375.24,310.4 375.40,308.9 375.55,310.2 375.70,310.3 375.85,311.8 376.00,309.9 376.15,309.8 376.30,311.1 376.45,312.6 376.60,310.3 376.75,310.8 376.90,310.1 377.05,309.4 377.21,308.3 377.36,310.3 377.51,310.0 377.66,310.0 377.81,313.1 377.96,309.9 378.11,310.8 378.26,309.9 378.41,312.0 378.56,310.0 378.71,312.9 378.86,310.0 379.02,311.4 379.17,311.8 379.32,310.1 379.47,311.5 379.62,310.5 379.77,309.3 379.92,309.5 380.07,310.8 380.22,312.8 380.37,309.7 380.52,311.1 380.67,309.3 380.83,310.7 380.98,308.6 381.13,309.3 381.28,310.4 381.43,309.4 381.58,310.0 381.73,311.7 381.88,310.2 382.03,309.4 382.18,308.7 382.33,309.6 382.48,311.9 382.64,310.3 382.79,310.2 382.94,311.3 383.09,311.5 383.24,311.7 383.39,309.9 383.54,309.1 383.69,308.1 383.84,309.4 383.99,309.9 384.14,311.3 384.30,310.8 384.45,309.6 384.60,311.6 384.75,308.7 384.90,308.9 385.05,308.8 385.20,308.9 385.35,310.0 385.50,309.2 385.65,309.3 385.80,312.2 385.95,308.4 386.11,308.9 386.26,310.0 386.41,310.9 386.56,311.0 386.71,310.0 386.86,309.8 387.01,310.0 387.16,311.3 387.31,309.1 387.46,307.2 387.61,310.6 387.76,308.8 387.92,310.3 388.07,312.2 388.22,310.5 388.37,312.8 388.52,308.2 388.67,310.7 388.82,310.9 388.97,311.5 389.12,309.3 389.27,310.5 389.42,310.5 389.57,310.5 389.73,308.5 389.88,308.0 390.03,311.1 390.18,310.8 390.33,310.4 390.48,311.2 390.63,311.8 390.78,308.8 390.93,311.4 391.08,312.3 391.23,311.7 391.38,311.1 391.54,311.3 391.69,308.4 391.84,309.7 391.99,311.7 392.14,312.3 392.29,311.0 392.44,309.7 392.59,310.2 392.74,311.5 392.89,313.1 393.04,311.4 393.19,309.6 393.35,311.2 393.50,310.9 393.65,313.6 393.80,311.2 393.95,310.4 394.10,310.3 394.25,308.7 394.40,308.9 394.55,309.7 394.70,309.3 394.85,310.6 395.00,310.5 395.16,311.6 395.31,312.4 395.46,310.6 395.61,310.1 395.76,307.8 395.91,310.9 396.06,311.2 396.21,309.3 396.36,309.8 396.51,309.4 396.66,311.8 396.81,311.2 396.97,312.0 397.12,308.7 397.27,313.9 397.42,309.2 397.57,308.9 397.72,310.6 397.87,309.6 398.02,312.8 398.17,309.7 398.32,309.4 398.47,311.6 398.62,311.9 398.78,309.1 398.93,309.6 399.08,309.8 399.23,310.0 399.38,312.6 399.53,311.9 399.68,311.7 399.83,312.0 399.98,310.3 400.13,311.4 400.28,310.1 400.43,309.2 400.59,312.5 400.74,307.8 400.89,310.2 401.04,309.4 401.19,307.9 401.34,309.6 401.49,310.2 401.64,310.8 401.79,309.0 401.94,311.2 402.09,310.5 402.24,311.2 402.40,307.5 402.55,309.5 402.70,309.2 402.85,310.9 403.00,309.1 403.15,309.4 403.30,308.5 403.45,308.4 403.60,308.7 403.75,311.3 403.90,308.5 404.06,306.7 404.21,310.4 404.36,309.3 404.51,310.7 404.66,310.6 404.81,309.5 404.96,309.3 405.11,309.1 405.26,309.8 405.41,308.8 405.56,310.1 405.71,311.7 405.87,308.9 406.02,308.9 406.17,308.9 406.32,310.6 406.47,310.6 406.62,311.6 406.77,310.6 406.92,309.8 407.07,310.2 407.22,307.8 407.37,310.3 407.52,309.8 407.68,312.3 407.83,311.3 407.98,308.3 408.13,308.6 408.28,310.6 408.43,306.5 408.58,308.0 408.73,309.7 408.88,310.1 409.03,309.4 409.18,310.7 409.33,308.7 409.49,309.1 409.64,308.7 409.79,307.4 409.94,308.9 410.09,308.0 410.24,308.8 410.39,305.0 410.54,308.7 410.69,307.7 410.84,307.6 410.99,308.4 411.14,307.6 411.30,309.5 411.45,309.8 411.60,309.2 411.75,309.2 411.90,308.3 412.05,307.7 412.20,305.7 412.35,306.9 412.50,309.0 412.65,308.3 412.80,306.4 412.95,307.1 413.11,308.3 413.26,306.4 413.41,308.9 413.56,305.3 413.71,307.4 413.86,307.1 414.01,306.2 414.16,306.2 414.31,306.4 414.46,302.2 414.61,306.0 414.76,306.8 414.92,305.6 415.07,306.5 415.22,303.0 415.37,304.5 415.52,304.9 415.67,303.9 415.82,305.9 415.97,304.7 416.12,303.1 416.27,305.0 416.42,304.9 416.57,303.0 416.73,304.5 416.88,304.0 417.03,303.9 417.18,301.5 417.33,305.2 417.48,304.3 417.63,303.3 417.78,303.8 417.93,303.8 418.08,302.9 418.23,302.5 418.38,303.6 418.54,302.7 418.69,302.9 418.84,302.0 418.99,303.4 419.14,305.4 419.29,304.4 419.44,304.3 419.59,303.9 419.74,303.8 419.89,302.4 420.04,307.2 420.19,303.8 420.35,302.9 420.50,305.8 420.65,305.7 420.80,304.8 420.95,303.5 421.10,303.8 421.25,308.2 421.40,306.0 421.55,305.3 421.70,309.1 421.85,305.8 422.01,305.4 422.16,307.6 422.31,307.5 422.46,309.3 422.61,305.0 422.76,307.7 422.91,305.1 423.06,308.2 423.21,306.8 423.36,307.1 423.51,306.8 423.66,309.1 423.82,310.3 423.97,308.0 424.12,307.9 424.27,307.6 424.42,309.1 424.57,307.0 424.72,313.5 424.87,308.3 425.02,311.1 425.17,309.0 425.32,306.9 425.47,306.7 425.63,308.3 425.78,308.0 425.93,308.7 426.08,307.5 426.23,312.3 426.38,312.1 426.53,306.7 426.68,309.9 426.83,310.9 426.98,308.8 427.13,309.0 427.28,310.9 427.44,310.1 427.59,307.8 427.74,311.1 427.89,308.8 428.04,312.1 428.19,308.2 428.34,306.4 428.49,309.7 428.64,311.3 428.79,310.3 428.94,309.9 429.09,308.4 429.25,310.9 429.40,307.2 429.55,310.8 429.70,308.1 429.85,308.9 430.00,307.9 430.15,308.5 430.30,311.8 430.45,308.2 430.60,310.1 430.75,308.7 430.90,311.2 431.06,308.0 431.21,309.8 431.36,311.1 431.51,312.9 431.66,308.2 431.81,308.7 431.96,309.8 432.11,311.9 432.26,308.5 432.41,311.0 432.56,309.0 432.71,308.5 432.87,307.7 433.02,310.1 433.17,311.3 433.32,309.8 433.47,307.0 433.62,309.2 433.77,311.3 433.92,311.1 434.07,310.3 434.22,312.0 434.37,308.2 434.52,308.3 434.68,313.2 434.83,310.9 434.98,309.7 435.13,309.3 435.28,306.4 435.43,311.1 435.58,307.1 435.73,307.3 435.88,309.9 436.03,312.1 436.18,309.4 436.33,310.5 436.49,309.4 436.64,310.5 436.79,307.7 436.94,312.9 437.09,308.7 437.24,310.8 437.39,307.2 437.54,312.5 437.69,310.6 437.84,312.8 437.99,309.1 438.14,311.5 438.30,309.8 438.45,310.0 438.60,311.8 438.75,308.8 438.90,311.1 439.05,312.7 439.20,312.5 439.35,311.5 439.50,310.5 439.65,308.7 439.80,312.0 439.95,309.1 440.11,311.7 440.26,309.6 440.41,310.1 440.56,310.1 440.71,310.9 440.86,309.5 441.01,310.3 441.16,309.4 441.31,310.8 441.46,310.5 441.61,310.7 441.77,308.9 441.92,310.5 442.07,310.1 442.22,310.9 442.37,310.1 442.52,308.7 442.67,311.1 442.82,309.2 442.97,310.5 443.12,307.2 443.27,310.8 443.42,311.0 443.58,308.8 443.73,310.9 443.88,309.6 444.03,312.0 444.18,311.0 444.33,308.4 444.48,309.8 444.63,307.6 444.78,309.6 444.93,310.8 445.08,311.2 445.23,309.9 445.39,309.7 445.54,310.3 445.69,309.2 445.84,310.5 445.99,311.6 446.14,310.3 446.29,311.2 446.44,309.0 446.59,309.4 446.74,310.5 446.89,312.8 447.04,311.5 447.20,312.4 447.35,310.1 447.50,311.8 447.65,307.8 447.80,310.8 447.95,307.2 448.10,311.8 448.25,310.7 448.40,311.7 448.55,310.6 448.70,309.4 448.85,309.1 449.01,310.3 449.16,312.1 449.31,310.9 449.46,309.3 449.61,309.3 449.76,309.1 449.91,309.8 450.06,310.0 450.21,309.4 450.36,310.1 450.51,307.9 450.66,312.2 450.82,310.4 450.97,312.2 451.12,310.5 451.27,309.8 451.42,310.2 451.57,310.4 451.72,309.1 451.87,309.5 452.02,312.7 452.17,311.3 452.32,309.3 452.47,310.8 452.63,308.9 452.78,312.0 452.93,308.6 453.08,311.2 453.23,310.1 453.38,310.1 453.53,308.9 453.68,309.7 453.83,309.0 453.98,308.8 454.13,310.6 454.28,313.4 454.44,309.5 454.59,311.3 454.74,309.9 454.89,309.0 455.04,311.8 455.19,310.8 455.34,311.5 455.49,310.1 455.64,310.1 455.79,308.8 455.94,309.5 456.09,312.2 456.25,306.8 456.40,310.4 456.55,311.9 456.70,310.9 456.85,311.0 457.00,309.5 457.15,311.4 457.30,311.4 457.45,309.7 457.60,312.1 457.75,309.1 457.90,306.4 458.06,309.7 458.21,309.6 458.36,308.5 458.51,309.1 458.66,308.9 458.81,307.1 458.96,311.3 459.11,309.6 459.26,313.3 459.41,309.6 459.56,310.1 459.72,307.5 459.87,310.9 460.02,308.0 460.17,310.2 460.32,310.7 460.47,310.5 460.62,308.2 460.77,308.2 460.92,310.4 461.07,310.9 461.22,311.2 461.37,309.2 461.53,309.0 461.68,311.6 461.83,308.3 461.98,310.1 462.13,308.6 462.28,307.0 462.43,307.4 462.58,309.5 462.73,309.1 462.88,309.4 463.03,308.2 463.18,307.9 463.34,309.0 463.49,308.2 463.64,306.2 463.79,307.8 463.94,310.7 464.09,307.1 464.24,308.9 464.39,307.9 464.54,309.0 464.69,306.6 464.84,306.0 464.99,308.3 465.15,306.6 465.30,307.4 465.45,306.9 465.60,308.6 465.75,307.4 465.90,307.1 466.05,305.4 466.20,304.4 466.35,305.3 466.50,307.6 466.65,307.2 466.80,306.9 466.96,305.3 467.11,304.2 467.26,307.2 467.41,305.6 467.56,305.9 467.71,303.5 467.86,303.7 468.01,305.4 468.16,305.3 468.31,302.5 468.46,304.2 468.61,301.8 468.77,305.1 468.92,304.0 469.07,306.2 469.22,304.8 469.37,301.3 469.52,302.3 469.67,301.0 469.82,301.7 469.97,302.4 470.12,301.0 470.27,300.8 470.42,298.4 470.58,301.2 470.73,300.0 470.88,300.8 471.03,301.2 471.18,299.5 471.33,300.3 471.48,298.1 471.63,300.4 471.78,298.8 471.93,297.8 472.08,298.2 472.23,296.3 472.39,297.5 472.54,297.8 472.69,298.5 472.84,298.3 472.99,297.5 473.14,298.3 473.29,295.3 473.44,298.9 473.59,299.8 473.74,300.3 473.89,300.9 474.04,299.0 474.20,299.4 474.35,299.0 474.50,299.2 474.65,300.3 474.80,302.4 474.95,298.0 475.10,300.1 475.25,301.5 475.40,299.8 475.55,302.2 475.70,299.7 475.85,301.5 476.01,299.8 476.16,302.9 476.31,301.6 476.46,303.9 476.61,302.8 476.76,302.0 476.91,303.0 477.06,304.0 477.21,304.0 477.36,303.9 477.51,303.9 477.66,304.6 477.82,306.0 477.97,304.1 478.12,305.8 478.27,303.4 478.42,306.8 478.57,306.1 478.72,305.2 478.87,305.4 479.02,303.5 479.17,306.2 479.32,305.8 479.48,304.3 479.63,305.8 479.78,307.3 479.93,306.8 480.08,307.0 480.23,305.9 480.38,308.0 480.53,306.8 480.68,308.1 480.83,310.0 480.98,304.2 481.13,306.3 481.29,307.0 481.44,306.0 481.59,308.5 481.74,306.6 481.89,309.4 482.04,308.2 482.19,307.7 482.34,307.1 482.49,308.3 482.64,307.8 482.79,309.1 482.94,307.6 483.10,308.5 483.25,307.5 483.40,307.4 483.55,304.7 483.70,306.8 483.85,307.3 484.00,305.1 484.15,304.7 484.30,306.1 484.45,306.9 484.60,304.0 484.75,306.7 484.91,307.5 485.06,305.7 485.21,306.3 485.36,306.5 485.51,304.8 485.66,306.5 485.81,306.1 485.96,303.5 486.11,305.9 486.26,306.2 486.41,303.2 486.56,305.9 486.72,304.1 486.87,302.3 487.02,302.6 487.17,302.6 487.32,304.5 487.47,302.8 487.62,302.8 487.77,301.3 487.92,303.0 488.07,300.9 488.22,301.5 488.37,303.3 488.53,303.1 488.68,301.2 488.83,301.7 488.98,302.4 489.13,301.4 489.28,303.1 489.43,303.2 489.58,300.8 489.73,299.0 489.88,300.5 490.03,302.7 490.18,302.3 490.34,302.3 490.49,302.2 490.64,299.6 490.79,300.8 490.94,302.1 491.09,300.8 491.24,301.8 491.39,299.0 491.54,298.7 491.69,303.8 491.84,302.0 491.99,301.8 492.15,303.3 492.30,304.6 492.45,305.7 492.60,297.8 492.75,302.3 492.90,303.4 493.05,299.2 493.20,299.6 493.35,302.2 493.50,305.5 493.65,304.3 493.80,306.3 493.96,303.7 494.11,305.1 494.26,306.0 494.41,304.6 494.56,304.1 494.71,304.5 494.86,299.1 495.01,305.2 495.16,302.2 495.31,304.0 495.46,306.4 495.61,306.1 495.77,302.8 495.92,306.6 496.07,307.1 496.22,306.5 496.37,307.3 496.52,307.3 496.67,304.2 496.82,306.5 496.97,306.5 497.12,305.3 497.27,307.1 497.43,306.1 497.58,307.2 497.73,306.2 497.88,309.0 498.03,310.8 498.18,307.0 498.33,307.9 498.48,308.0 498.63,308.6 498.78,307.9 498.93,305.1 499.08,308.7 499.24,308.1 499.39,306.9 499.54,308.2 499.69,307.8 499.84,308.9 499.99,308.2 500.14,308.3 500.29,308.9 500.44,309.1 500.59,308.8 500.74,310.5 500.89,309.2 501.05,307.9 501.20,311.4 501.35,309.2 501.50,311.2 501.65,307.6 501.80,309.9 501.95,311.5 502.10,310.9 502.25,309.3 502.40,308.4 502.55,308.4 502.70,309.0 502.86,308.0 503.01,308.3 503.16,308.0 503.31,308.0 503.46,309.7 503.61,307.0 503.76,309.7 503.91,310.4 504.06,308.2 504.21,308.3 504.36,309.6 504.51,309.5 504.67,310.8 504.82,306.9 504.97,309.5 505.12,311.5 505.27,309.7 505.42,312.0 505.57,312.6 505.72,308.9 505.87,311.7 506.02,310.4 506.17,309.7 506.32,309.3 506.48,309.4 506.63,308.5 506.78,309.5 506.93,311.0 507.08,311.5 507.23,309.2 507.38,310.5 507.53,310.4 507.68,306.6 507.83,310.7 507.98,308.1 508.13,308.2 508.29,310.9 508.44,312.1 508.59,308.3 508.74,308.6 508.89,308.5 509.04,309.1 509.19,309.3 509.34,308.7 509.49,307.6 509.64,312.2 509.79,309.2 509.94,308.8 510.10,311.1 510.25,309.4 510.40,311.3 510.55,310.9 510.70,311.2 510.85,309.3 511.00,310.7 511.15,307.8 511.30,308.0 511.45,310.0 511.60,309.5 511.75,311.7 511.91,309.5 512.06,307.5 512.21,310.0 512.36,309.5 512.51,310.2 512.66,308.3 512.81,308.9 512.96,310.0 513.11,310.9 513.26,310.5 513.41,310.9 513.56,308.0 513.72,309.6 513.87,310.2 514.02,311.2 514.17,310.3 514.32,309.6 514.47,309.8 514.62,309.8 514.77,308.0 514.92,310.0 515.07,311.0 515.22,310.9 515.37,307.4 515.53,310.0 515.68,307.9 515.83,311.4 515.98,310.7 516.13,310.9 516.28,309.1 516.43,307.3 516.58,308.6 516.73,309.5 516.88,307.9 517.03,308.6 517.19,312.3 517.34,308.2 517.49,310.7 517.64,307.5 517.79,310.3 517.94,311.1 518.09,310.6 518.24,311.6 518.39,312.4 518.54,308.1 518.69,310.3 518.84,310.7 519.00,310.6 519.15,312.1 519.30,310.4 519.45,311.6 519.60,311.6 519.75,310.2 519.90,310.8 520.05,309.0 520.20,310.4 520.35,310.3 520.50,309.8 520.65,309.4 520.81,311.3 520.96,309.9 521.11,313.1 521.26,311.8 521.41,311.1 521.56,309.3 521.71,311.3 521.86,310.2 522.01,310.2 522.16,308.6 522.31,310.8 522.46,310.4 522.62,309.4 522.77,309.2 522.92,309.7 523.07,308.3 523.22,309.3 523.37,311.9 523.52,309.2 523.67,313.2 523.82,308.3 523.97,311.5 524.12,311.5 524.27,311.6 524.43,310.8 524.58,307.9 524.73,311.6 524.88,311.5 525.03,310.1 525.18,306.9 525.33,311.5 525.48,308.8 525.63,309.7 525.78,311.7 525.93,311.9 526.08,310.6 526.24,309.3 526.39,312.4 526.54,311.6 526.69,309.9 526.84,308.8 526.99,310.4 527.14,308.2 527.29,312.4 527.44,310.7 527.59,309.6 527.74,310.6 527.89,307.8 528.05,310.0 528.20,309.2 528.35,307.9 528.50,309.2 528.65,310.5 528.80,308.1 528.95,309.8 529.10,308.1 529.25,310.3 529.40,307.6 529.55,311.0 529.70,310.9 529.86,311.1 530.01,312.5 530.16,310.2 530.31,310.2 530.46,310.8 530.61,309.4 530.76,307.4 530.91,308.3 531.06,308.3 531.21,310.3 531.36,309.1 531.51,309.5 531.67,310.8 531.82,310.3 531.97,312.7 532.12,309.9 532.27,308.7 532.42,311.7 532.57,309.4 532.72,309.9 532.87,311.3 533.02,310.2 533.17,310.9 533.32,309.2 533.48,309.6 533.50,310.9 533.50,309.3 533.50,309.5 533.50,310.0 533.50,312.2"/>
<polyline fill="none" stroke="#00f" stroke-width="1" stroke-linejoin="round" points="44.50,402.3 44.50,393.8 44.50,399.3 44.50,397.4 44.60,397.7 44.75,398.1 44.91,394.7 45.06,398.1 45.21,396.9 45.36,404.7 45.51,398.9 45.66,397.8 45.81,398.0 45.96,397.3 46.11,396.5 46.26,397.8 46.41,399.4 46.56,398.0 46.72,400.3 46.87,398.1 47.02,398.5 47.17,401.3 47.32,399.5 47.47,397.5 47.62,398.1 47.77,399.5 47.92,402.1 48.07,398.0 48.22,398.0 48.37,400.3 48.53,396.8 48.68,397.9 48.83,400.1 48.98,399.5 49.13,398.6 49.28,399.7 49.43,393.2 49.58,400.4 49.73,396.7 49.88,395.4 50.03,399.0 50.18,399.8 50.34,397.6 50.49,396.5 50.64,398.5 50.79,398.4 50.94,401.1 51.09,399.8 51.24,398.8 51.39,400.5 51.54,398.1 51.69,396.7 51.84,399.5 51.99,399.5 52.15,398.0 52.30,397.0 52.45,398.9 52.60,393.8 52.75,399.7 52.90,399.3 53.05,395.4 53.20,398.5 53.35,396.6 53.50,399.8 53.65,394.6 53.80,396.7 53.96,399.7 54.11,400.6 54.26,394.4 54.41,397.5 54.56,399.0 54.71,397.3 54.86,401.4 55.01,396.2 55.16,399.1 55.31,396.5 55.46,401.0 55.61,398.4 55.77,397.7 55.92,395.2 56.07,401.5 56.22,399.8 56.37,399.8 56.52,400.5 56.67,399.0 56.82,397.2 56.97,396.9 57.12,396.9 57.27,400.9 57.42,395.7 57.58,397.3 57.73,397.8 57.88,398.8 58.03,399.4 58.18,396.1 58.33,395.2 58.48,398.4 58.63,400.6 58.78,399.8 58.93,398.8 59.08,397.8 59.23,398.9 59.39,397.9 59.54,399.9 59.69,396.9 59.84,398.6 59.99,398.1 60.14,399.4 60.29,398.8 60.44,403.1 60.59,401.1 60.74,401.1 60.89,394.5 61.04,397.7 61.20,397.2 61.35,399.3 61.50,394.1 61.65,400.5 61.80,400.3 61.95,395.9 62.10,396.5 62.25,396.8 62.40,398.4 62.55,399.5 62.70,402.1 62.85,397.9 63.01,399.7 63.16,398.6 63.31,401.6 63.46,399.7 63.61,400.8 63.76,396.3 63.91,397.9 64.06,396.8 64.21,401.1 64.36,399.5 64.51,397.7 64.67,397.4 64.82,399.2 64.97,397.0 65.12,396.5 65.27,399.2 65.42,402.8 65.57,397.8 65.72,397.2 65.87,396.1 66.02,395.8 66.17,399.2 66.32,399.8 66.48,398.3 66.63,398.9 66.78,398.4 66.93,398.5 67.08,395.4 67.23,397.4 67.38,398.4 67.53,396.7 67.68,397.3 67.83,396.7 67.98,397.6 68.13,399.8 68.29,397.4 68.44,397.9 68.59,399.7 68.74,399.4 68.89,401.3 69.04,394.3 69.19,399.8 69.34,397.3 69.49,398.4 69.64,399.7 69.79,400.2 69.94,400.1 70.10,398.4 70.25,401.1 70.40,397.6 70.55,397.9 70.70,399.6 70.85,397.1 71.00,402.1 71.15,400.0 71.30,402.2 71.45,398.0 71.60,397.4 71.75,398.4 71.91,399.4 72.06,397.0 72.21,398.8 72.36,398.0 72.51,401.1 72.66,396.8 72.81,400.0 72.96,396.8 73.11,396.2 73.26,396.7 73.41,395.8 73.56,398.3 73.72,399.9 73.87,398.3 74.02,399.2 74.17,401.0 74.32,398.5 74.47,398.3 74.62,397.4 74.77,394.9 74.92,399.4 75.07,394.6 75.22,399.2 75.37,397.9 75.53,400.0 75.68,397.8 75.83,396.3 75.98,398.6 76.13,396.8 76.28,397.5 76.43,397.9 76.58,397.6 76.73,397.5 76.88,396.3 77.03,397.5 77.18,393.8 77.34,397.5 77.49,395.5 77.64,399.9 77.79,400.2 77.94,394.1 78.09,398.0 78.24,397.5 78.39,395.8 78.54,398.7 78.69,396.8 78.84,394.4 78.99,397.2 79.15,397.4 79.30,397.9 79.45,395.3 79.60,398.8 79.75,399.0 79.90,395.4 80.05,396.3 80.20,397.4 80.35,396.5 80.50,400.9 80.65,397.9 80.80,395.6 80.96,396.0 81.11,397.4 81.26,401.8 81.41,397.1 81.56,397.7 81.71,398.4 81.86,397.3 82.01,401.7 82.16,396.4 82.31,398.8 82.46,397.6 82.62,398.5 82.77,395.1 82.92,400.6 83.07,397.0 83.22,397.3 83.37,395.4 83.52,395.8 83.67,398.2 83.82,399.0 83.97,398.6 84.12,399.4 84.27,398.4 84.43,397.1 84.58,398.6 84.73,398.1 84.88,396.8 85.03,398.3 85.18,399.4 85.33,397.3 85.48,396.2 85.63,398.2 85.78,400.5 85.93,396.4 86.08,396.6 86.24,396.4 86.39,399.0 86.54,393.1 86.69,397.3 86.84,398.9 86.99,395.0 87.14,399.4 87.29,397.5 87.44,395.4 87.59,396.8 87.74,393.4 87.89,395.2 88.05,399.8 88.20,394.5 88.35,399.8 88.50,396.0 88.65,398.0 88.80,396.1 88.95,391.6 89.10,394.8 89.25,396.2 89.40,393.6 89.55,393.1 89.70,396.4 89.86,394.4 90.01,392.2 90.16,394.2 90.31,397.2 90.46,394.5 90.61,397.2 90.76,398.3 90.91,395.3 91.06,392.9 91.21,392.4 91.36,394.9 91.51,396.7 91.67,395.4 91.82,395.8 91.97,393.7 92.12,395.2 92.27,393.5 92.42,393.7 92.57,391.6 92.72,391.0 92.87,393.1 93.02,391.7 93.17,391.9 93.32,395.1 93.48,393.4 93.63,399.5 93.78,395.3 93.93,391.9 94.08,394.7 94.23,393.7 94.38,391.4 94.53,395.0 94.68,390.9 94.83,385.9 94.98,393.9 95.13,390.8 95.29,395.1 95.44,390.3 95.59,389.0 95.74,394.7 95.89,388.8 96.04,391.4 96.19,393.9 96.34,390.8 96.49,390.1 96.64,390.3 96.79,391.7 96.94,387.8 97.10,390.7 97.25,390.4 97.40,394.0 97.55,387.7 97.70,386.1 97.85,389.6 98.00,386.7 98.15,387.9 98.30,387.2 98.45,389.3 98.60,384.6 98.75,385.6 98.91,379.3 99.06,382.8 99.21,388.3 99.36,382.5 99.51,381.9 99.66,380.2 99.81,384.1 99.96,382.6 100.11,378.6 100.26,382.7 100.41,381.1 100.56,381.8 100.72,377.6 100.87,383.1 101.02,379.0 101.17,376.9 101.32,375.1 101.47,375.1 101.62,377.3 101.77,373.4 101.92,376.3 102.07,374.0 102.22,375.3 102.38,372.9 102.53,369.4 102.68,363.0 102.83,368.4 102.98,368.8 103.13,365.8 103.28,365.9 103.43,361.5 103.58,360.5 103.73,357.5 103.88,363.5 104.03,358.3 104.19,354.8 104.34,350.6 104.49,353.0 104.64,356.9 104.79,352.1 104.94,346.4 105.09,352.3 105.24,350.8 105.39,347.6 105.54,345.3 105.69,345.0 105.84,341.1 106.00,340.3 106.15,332.8 106.30,339.7 106.45,333.2 106.60,338.5 106.75,321.1 106.90,330.3 107.05,329.8 107.20,323.0 107.35,324.8 107.50,324.6 107.65,322.6 107.81,316.8 107.96,317.3 108.11,321.1 108.26,321.2 108.41,315.5 108.56,314.7 108.71,314.6 108.86,317.7 109.01,308.5 109.16,307.1 109.31,313.3 109.46,308.1 109.62,310.5 109.77,313.7 109.92,315.9 110.07,309.9 110.22,318.5 110.37,308.6 110.52,319.2 110.67,311.5 110.82,313.9 110.97,323.0 111.12,320.1 111.27,319.9 111.43,322.8 111.58,327.9 111.73,327.4 111.88,329.1 112.03,335.0 112.18,329.8 112.33,332.4 112.48,333.9 112.63,341.9 112.78,342.9 112.93,345.6 113.08,342.5 113.24,343.7 113.39,348.9 113.54,346.1 113.69,351.9 113.84,353.0 113.99,349.7 114.14,353.3 114.29,354.6 114.44,362.1 114.59,366.1 114.74,358.8 114.89,360.5 115.05,354.6 115.20,363.5 115.35,364.0 115.50,362.0 115.65,368.7 115.80,362.8 115.95,367.8 116.10,369.8 116.25,366.8 116.40,373.7 116.55,375.2 116.70,369.2 116.86,370.0 117.01,376.3 117.16,375.4 117.31,372.9 117.46,376.1 117.61,377.3 117.76,377.9 117.91,381.0 118.06,380.5 118.21,384.6 118.36,384.1 118.51,382.9 118.67,384.4 118.82,385.5 118.97,384.4 119.12,380.1 119.27,385.7 119.42,384.2 119.57,388.3 119.72,385.1 119.87,386.5 120.02,386.4 120.17,389.9 120.33,386.7 120.48,386.0 120.63,387.6 120.78,386.2 120.93,387.9 121.08,387.7 121.23,388.6 121.38,392.7 121.53,387.6 121.68,388.9 121.83,388.5 121.98,390.7 122.14,386.8 122.29,388.1 122.44,389.7 122.59,391.2 122.74,390.1 122.89,389.2 123.04,388.6 123.19,391.8 123.34,393.9 123.49,391.7 123.64,391.5 123.79,392.2 123.95,389.3 124.10,390.8 124.25,391.0 124.40,392.3 124.55,391.7 124.70,389.3 124.85,394.4 125.00,395.7 125.15,391.6 125.30,393.1 125.45,392.9 125.60,394.0 125.76,389.3 125.91,395.9 126.06,391.6 126.21,395.3 126.36,392.8 126.51,391.9 126.66,392.4 126.81,394.7 126.96,391.0 127.11,392.0 127.26,391.8 127.41,389.3 127.57,395.6 127.72,394.1 127.87,392.9 128.02,395.3 128.17,390.9 128.32,392.8 128.47,396.5 128.62,394.9 128.77,388.2 128.92,385.9 129.07,390.7 129.22,395.0 129.38,391.8 129.53,392.3 129.68,394.0 129.83,390.8 129.98,393.0 130.13,394.2 130.28,393.5 130.43,393.2 130.58,391.1 130.73,393.4 130.88,391.3 131.03,394.9 131.19,397.5 131.34,390.3 131.49,387.2 131.64,390.8 131.79,392.4 131.94,393.7 132.09,393.7 132.24,389.5 132.39,389.4 132.54,393.7 132.69,388.4 132.84,393.0 133.00,390.0 133.15,392.0 133.30,391.7 133.45,391.6 133.60,391.5 133.75,387.3 133.90,390.0 134.05,389.1 134.20,389.5 134.35,391.4 134.50,387.8 134.65,386.5 134.81,386.2 134.96,386.9 135.11,389.0 135.26,385.1 135.41,389.4 135.56,387.1 135.71,385.6 135.86,382.7 136.01,386.1 136.16,386.8 136.31,380.6 136.46,387.3 136.62,388.1 136.77,384.6 136.92,384.6 137.07,389.0 137.22,385.7 137.37,380.1 137.52,381.9 137.67,381.2 137.82,380.9 137.97,374.9 138.12,382.5 138.27,378.5 138.43,380.3 138.58,379.1 138.73,381.4 138.88,378.1 139.03,376.5 139.18,379.7 139.33,381.7 139.48,376.9 139.63,381.1 139.78,378.0 139.93,375.7 140.09,381.0 140.24,374.5 140.39,379.3 140.54,375.1 140.69,377.6 140.84,373.0 140.99,374.0 141.14,379.1 141.29,376.7 141.44,376.3 141.59,375.1 141.74,377.5 141.90,372.6 142.05,373.4 142.20,376.1 142.35,374.4 142.50,374.9 142.65,376.7 142.80,376.7 142.95,376.7 143.10,381.8 143.25,380.3 143.40,381.0 143.55,377.9 143.71,376.8 143.86,374.6 144.01,377.7 144.16,373.4 144.31,377.5 144.46,381.2 144.61,383.6 144.76,382.1 144.91,377.7 145.06,381.4 145.21,378.3 145.36,382.7 145.52,380.5 145.67,383.2 145.82,387.8 145.97,383.9 146.12,387.7 146.27,382.6 146.42,381.6 146.57,386.0 146.72,387.2 146.87,381.9 147.02,383.8 147.17,380.5 147.33,383.8 147.48,386.7 147.63,384.7 147.78,383.9 147.93,382.3 148.08,386.8 148.23,388.2 148.38,388.0 148.53,387.6 148.68,384.4 148.83,391.7 148.98,387.9 149.14,388.0 149.29,390.3 149.44,384.1 149.59,389.1 149.74,389.2 149.89,390.7 150.04,393.1 150.19,391.4 150.34,386.7 150.49,390.2 150.64,391.6 150.79,391.7 150.95,388.9 151.10,388.3 151.25,393.2 151.40,393.0 151.55,392.4 151.70,389.0 151.85,396.6 152.00,387.0 152.15,392.4 152.30,397.7 152.45,393.2 152.60,394.2 152.76,391.4 152.91,396.7 153.06,391.5 153.21,394.8 153.36,394.6 153.51,392.4 153.66,396.4 153.81,391.9 153.96,393.4 154.11,394.9 154.26,394.2 154.41,396.0 154.57,397.0 154.72,394.7 154.87,394.3 155.02,394.4 155.17,394.8 155.32,397.2 155.47,395.3 155.62,396.6 155.77,395.6 155.92,394.2 156.07,397.6 156.22,394.0 156.38,396.1 156.53,399.0 156.68,394.1 156.83,396.1 156.98,393.2 157.13,395.3 157.28,393.5 157.43,395.7 157.58,395.4 157.73,396.8 157.88,399.6 158.04,397.1 158.19,397.9 158.34,396.6 158.49,396.2 158.64,395.1 158.79,393.3 158.94,396.9 159.09,400.0 159.24,397.8 159.39,395.9 159.54,400.1 159.69,396.1 159.85,395.8 160.00,394.7 160.15,395.2 160.30,396.6 160.45,400.9 160.60,396.7 160.75,395.2 160.90,396.0 161.05,396.8 161.20,394.0 161.35,397.5 161.50,398.6 161.66,397.9 161.81,398.4 161.96,394.9 162.11,394.1 162.26,399.8 162.41,399.4 162.56,394.5 162.71,397.8 162.86,397.5 163.01,398.5 163.16,397.8 163.31,396.5 163.47,397.8 163.62,397.8 163.77,397.4 163.92,394.0 164.07,391.9 164.22,396.1 164.37,394.5 164.52,398.0 164.67,398.9 164.82,398.1 164.97,396.9 165.12,397.7 165.28,399.8 165.43,396.3 165.58,399.4 165.73,399.0 165.88,398.2 166.03,400.4 166.18,396.3 166.33,399.5 166.48,396.0 166.63,396.3 166.78,395.7 166.93,398.6 167.09,396.0 167.24,397.8 167.39,395.6 167.54,399.8 167.69,401.2 167.84,398.2 167.99,400.9 168.14,398.8 168.29,401.9 168.44,398.0 168.59,394.9 168.74,400.6 168.90,397.6 169.05,395.9 169.20,396.6 169.35,394.8 169.50,397.5 169.65,395.8 169.80,400.6 169.95,399.1 170.10,394.8 170.25,395.0 170.40,396.8 170.55,394.3 170.71,397.7 170.86,397.8 171.01,396.4 171.16,396.9 171.31,398.8 171.46,400.6 171.61,400.7 171.76,398.0 171.91,399.5 172.06,396.5 172.21,398.7 172.36,396.1 172.52,399.3 172.67,395.6 172.82,396.1 172.97,397.9 173.12,399.0 173.27,395.3 173.42,396.9 173.57,398.2 173.72,398.4 173.87,396.4 174.02,398.1 174.17,397.5 174.33,400.6 174.48,399.0 174.63,395.5 174.78,393.9 174.93,398.2 175.08,400.2 175.23,398.3 175.38,399.6 175.53,397.1 175.68,395.4 175.83,399.4 175.98,398.2 176.14,399.3 176.29,395.4 176.44,398.3 176.59,396.8 176.74,399.5 176.89,396.9 177.04,396.9 177.19,396.9 177.34,400.4 177.49,398.1 177.64,396.6 177.80,396.1 177.95,396.1 178.10,400.7 178.25,394.6 178.40,396.4 178.55,399.2 178.70,400.2 178.85,397.7 179.00,399.5 179.15,399.4 179.30,399.9 179.45,398.1 179.61,401.1 179.76,398.4 179.91,400.9 180.06,396.0 180.21,399.8 180.36,395.7 180.51,395.3 180.66,399.0 180.81,396.6 180.96,398.9 181.11,396.1 181.26,401.1 181.42,398.1 181.57,396.0 181.72,398.4 181.87,399.8 182.02,396.7 182.17,399.1 182.32,401.9 182.47,399.8 182.62,398.1 182.77,397.1 182.92,399.2 183.07,395.3 183.23,392.5 183.38,396.9 183.53,396.1 183.68,401.4 183.83,398.4 183.98,396.3 184.13,396.0 184.28,399.1 184.43,396.6 184.58,397.1 184.73,398.0 184.88,398.3 185.04,398.4 185.19,398.4 185.34,400.6 185.49,401.3 185.64,395.1 185.79,403.0 185.94,398.4 186.09,400.5 186.24,396.8 186.39,398.8 186.54,398.6 186.69,398.4 186.85,399.8 187.00,399.4 187.15,396.3 187.30,398.0 187.45,399.6 187.60,399.5 187.75,397.6 187.90,397.7 188.05,397.9 188.20,396.1 188.35,395.8 188.50,401.1 188.66,397.5 188.81,398.4 188.96,396.8 189.11,400.6 189.26,401.5 189.41,397.8 189.56,399.1 189.71,396.8 189.86,401.5 190.01,399.9 190.16,396.6 190.31,400.5 190.47,398.9 190.62,399.0 190.77,398.8 190.92,396.9 191.07,397.2 191.22,399.3 191.37,398.1 191.52,396.4 191.67,402.0 191.82,397.8 191.97,397.1 192.12,396.9 192.28,399.4 192.43,400.0 192.58,398.6 192.73,399.8 192.88,395.4 193.03,397.5 193.18,397.3 193.33,398.2 193.48,399.1 193.63,394.3 193.78,404.0 193.93,396.5 194.09,398.8 194.24,399.7 194.39,399.7 194.54,398.6 194.69,392.7 194.84,396.1 194.99,399.5 195.14,396.4 195.29,396.1 195.44,393.7 195.59,400.4 195.75,399.0 195.90,396.4 196.05,397.8 196.20,397.9 196.35,396.0 196.50,397.5 196.65,398.5 196.80,399.1 196.95,400.4 197.10,398.1 197.25,397.2 197.40,398.8 197.56,396.8 197.71,395.7 197.86,400.1 198.01,397.3 198.16,398.2 198.31,399.2 198.46,395.9 198.61,399.2 198.76,398.8 198.91,397.8 199.06,398.7 199.21,396.5 199.37,393.8 199.52,397.4 199.67,396.2 199.82,399.6 199.97,398.4 200.12,396.9 200.27,398.0 200.42,400.4 200.57,400.0 200.72,398.6 200.87,398.7 201.02,397.4 201.18,397.6 201.33,399.0 201.48,397.6 201.63,398.4 201.78,395.8 201.93,394.7 202.08,394.6 202.23,397.0 202.38,400.3 202.53,400.0 202.68,395.9 202.83,394.9 202.99,399.3 203.14,398.6 203.29,395.2 203.44,399.7 203.59,398.0 203.74,400.2 203.89,398.3 204.04,399.4 204.19,398.3 204.34,395.9 204.49,397.2 204.64,396.3 204.80,399.2 204.95,395.7 205.10,394.7 205.25,398.8 205.40,399.7 205.55,400.2 205.70,399.5 205.85,394.6 206.00,396.1 206.15,396.3 206.30,397.3 206.45,393.2 206.61,397.3 206.76,397.8 206.91,395.4 207.06,397.4 207.21,399.4 207.36,397.1 207.51,399.0 207.66,398.9 207.81,397.7 207.96,397.5 208.11,396.0 208.26,399.0 208.42,395.7 208.57,395.1 208.72,397.7 208.87,394.9 209.02,397.0 209.17,398.1 209.32,396.0 209.47,395.9 209.62,397.4 209.77,396.8 209.92,392.1 210.07,392.3 210.23,397.3 210.38,395.1 210.53,389.8 210.68,390.9 210.83,393.3 210.98,390.7 211.13,393.2 211.28,391.7 211.43,391.9 211.58,387.5 211.73,390.5 211.88,392.5 212.04,385.0 212.19,388.6 212.34,386.3 212.49,383.8 212.64,380.1 212.79,375.0 212.94,373.4 213.09,375.5 213.24,373.8 213.39,372.4 213.54,369.8 213.69,368.3 213.85,363.6 214.00,361.4 214.15,366.5 214.30,368.9 214.45,369.6 214.60,367.3 214.75,372.6 214.90,372.4 215.05,379.0 215.20,378.1 215.35,382.2 215.51,385.1 215.66,386.2 215.81,390.3 215.96,385.8 216.11,384.4 216.26,392.3 216.41,394.0 216.56,394.7 216.71,392.8 216.86,393.9 217.01,393.4 217.16,390.9 217.32,392.8 217.47,395.3 217.62,393.4 217.77,398.6 217.92,391.9 218.07,394.3 218.22,397.6 218.37,394.3 218.52,393.5 218.67,393.2 218.82,394.5 218.97,399.0 219.13,396.9 219.28,397.2 219.43,395.3 219.58,398.0 219.73,396.7 219.88,394.7 220.03,395.7 220.18,397.0 220.33,398.9 220.48,396.6 220.63,397.7 220.78,400.7 220.94,395.3 221.09,394.5 221.24,398.7 221.39,397.7 221.54,396.7 221.69,397.4 221.84,396.3 221.99,397.9 222.14,396.3 222.29,398.5 222.44,394.8 222.59,395.5 222.75,397.2 222.90,396.1 223.05,398.4 223.20,397.0 223.35,396.0 223.50,397.4 223.65,396.0 223.80,394.1 223.95,394.9 224.10,395.5 224.25,396.2 224.40,397.2 224.56,398.8 224.71,398.1 224.86,400.4 225.01,399.5 225.16,396.7 225.31,400.2 225.46,399.3 225.61,396.1 225.76,397.6 225.91,399.1 226.06,397.4 226.21,398.9 226.37,397.7 226.52,398.3 226.67,396.3 226.82,397.6 226.97,396.2 227.12,398.2 227.27,393.6 227.42,397.5 227.57,399.2 227.72,397.9 227.87,396.8 228.02,397.8 228.18,395.2 228.33,395.2 228.48,396.0 228.63,396.4 228.78,398.6 228.93,395.0 229.08,398.6 229.23,393.6 229.38,395.1 229.53,396.5 229.68,398.8 229.83,395.3 229.99,392.4 230.14,397.3 230.29,396.4 230.44,394.3 230.59,394.4 230.74,395.0 230.89,396.5 231.04,397.6 231.19,393.4 231.34,400.7 231.49,396.1 231.64,395.4 231.80,397.4 231.95,396.3 232.10,400.6 232.25,398.1 232.40,395.2 232.55,395.1 232.70,394.9 232.85,395.1 233.00,397.1 233.15,394.4 233.30,398.8 233.46,395.4 233.61,395.3 233.76,397.4 233.91,391.5 234.06,393.5 234.21,396.5 234.36,395.3 234.51,395.2 234.66,395.9 234.81,393.9 234.96,394.7 235.11,392.2 235.27,391.1 235.42,397.3 235.57,392.8 235.72,393.2 235.87,397.4 236.02,396.6 236.17,393.3 236.32,393.2 236.47,394.0 236.62,392.2 236.77,395.1 236.92,394.2 237.08,394.1 237.23,395.3 237.38,395.1 237.53,397.3 237.68,396.5 237.83,389.7 237.98,395.0 238.13,390.7 238.28,389.9 238.43,394.2 238.58,391.1 238.73,391.8 238.89,394.6 239.04,390.8 239.19,390.1 239.34,392.6 239.49,394.3 239.64,392.7 239.79,388.0 239.94,389.8 240.09,390.7 240.24,395.0 240.39,392.5 240.54,392.2 240.70,392.8 240.85,389.3 241.00,390.8 241.15,390.6 241.30,387.1 241.45,389.0 241.60,390.0 241.75,386.0 241.90,390.0 242.05,389.6 242.20,390.0 242.35,385.5 242.51,387.3 242.66,390.1 242.81,388.2 242.96,384.2 243.11,386.2 243.26,388.7 243.41,384.7 243.56,385.5 243.71,390.4 243.86,383.6 244.01,383.0 244.16,380.4 244.32,380.8 244.47,385.7 244.62,381.1 244.77,378.0 244.92,378.1 245.07,380.0 245.22,381.4 245.37,377.0 245.52,380.2 245.67,376.5 245.82,378.1 245.97,378.0 246.13,377.6 246.28,374.2 246.43,374.3 246.58,375.5 246.73,369.8 246.88,373.2 247.03,373.5 247.18,374.3 247.33,370.6 247.48,369.4 247.63,369.7 247.78,366.4 247.94,367.2 248.09,368.3 248.24,367.2 248.39,362.5 248.54,364.0 248.69,357.8 248.84,366.0 248.99,361.2 249.14,362.9 249.29,358.0 249.44,360.6 249.59,361.6 249.75,362.7 249.90,354.7 250.05,361.1 250.20,357.4 250.35,354.9 250.50,358.5 250.65,355.5 250.80,355.1 250.95,353.4 251.10,356.2 251.25,355.3 251.40,354.4 251.56,351.6 251.71,352.9 251.86,355.9 252.01,358.7 252.16,354.4 252.31,359.2 252.46,354.6 252.61,351.2 252.76,357.1 252.91,352.1 253.06,356.8 253.22,359.3 253.37,355.2 253.52,356.3 253.67,365.0 253.82,358.2 253.97,358.8 254.12,361.0 254.27,358.7 254.42,359.3 254.57,361.4 254.72,353.3 254.87,365.8 255.03,358.7 255.18,359.4 255.33,365.0 255.48,364.1 255.63,360.9 255.78,365.9 255.93,362.5 256.08,364.5 256.23,362.8 256.38,365.5 256.53,369.7 256.68,369.5 256.84,370.7 256.99,373.0 257.14,370.8 257.29,369.7 257.44,371.3 257.59,377.2 257.74,373.3 257.89,374.6 258.04,373.9 258.19,375.3 258.34,376.3 258.49,375.6 258.65,375.6 258.80,374.3 258.95,374.6 259.10,378.2 259.25,379.5 259.40,380.3 259.55,378.3 259.70,376.3 259.85,380.4 260.00,380.6 260.15,375.4 260.30,381.5 260.46,381.2 260.61,384.1 260.76,377.2 260.91,377.0 261.06,382.4 261.21,376.0 261.36,378.9 261.51,378.1 261.66,378.4 261.81,376.3 261.96,380.6 262.11,383.8 262.27,382.6 262.42,382.7 262.57,380.9 262.72,385.5 262.87,383.4 263.02,384.8 263.17,378.6 263.32,383.4 263.47,380.0 263.62,383.9 263.77,383.7 263.92,380.7 264.08,384.1 264.23,386.8 264.38,385.4 264.53,385.9 264.68,382.8 264.83,383.5 264.98,382.8 265.13,386.0 265.28,388.8 265.43,387.3 265.58,386.6 265.73,384.4 265.89,388.3 266.04,387.0 266.19,383.6 266.34,384.3 266.49,387.7 266.64,386.8 266.79,392.7 266.94,389.4 267.09,387.3 267.24,388.8 267.39,393.6 267.54,388.3 267.70,392.3 267.85,391.8 268.00,394.2 268.15,392.4 268.30,390.7 268.45,392.8 268.60,392.0 268.75,394.1 268.90,392.1 269.05,396.6 269.20,392.4 269.35,393.7 269.51,391.6 269.66,393.4 269.81,393.3 269.96,393.7 270.11,395.4 270.26,392.5 270.41,392.0 270.56,396.1 270.71,393.4 270.86,392.8 271.01,396.5 271.17,395.9 271.32,389.1 271.47,393.8 271.62,396.2 271.77,396.4 271.92,393.8 272.07,398.0 272.22,393.4 272.37,394.6 272.52,395.3 272.67,395.1 272.82,396.8 272.98,397.3 273.13,395.3 273.28,398.2 273.43,394.1 273.58,395.1 273.73,399.0 273.88,395.8 274.03,397.8 274.18,394.9 274.33,395.3 274.48,395.6 274.63,396.2 274.79,395.3 274.94,396.0 275.09,397.3 275.24,398.4 275.39,396.3 275.54,397.4 275.69,397.9 275.84,394.1 275.99,393.2 276.14,399.4 276.29,398.8 276.44,396.4 276.60,397.0 276.75,394.6 276.90,393.8 277.05,397.0 277.20,393.6 277.35,398.2 277.50,395.2 277.65,397.1 277.80,400.3 277.95,400.2 278.10,396.1 278.25,398.7 278.41,394.7 278.56,395.5 278.71,397.4 278.86,399.3 279.01,395.6 279.16,397.8 279.31,396.9 279.46,394.4 279.61,396.5 279.76,399.6 279.91,396.6 280.06,397.8 280.22,398.4 280.37,395.4 280.52,399.2 280.67,399.7 280.82,399.9 280.97,399.4 281.12,396.0 281.27,395.8 281.42,395.4 281.57,395.2 281.72,395.4 281.87,398.8 282.03,399.7 282.18,395.8 282.33,398.5 282.48,394.6 282.63,396.4 282.78,395.1 282.93,393.9 283.08,397.1 283.23,397.2 283.38,396.2 283.53,396.0 283.68,395.2 283.84,396.8 283.99,395.9 284.14,397.5 284.29,394.8 284.44,397.5 284.59,398.0 284.74,399.4 284.89,399.0 285.04,397.4 285.19,395.8 285.34,393.6 285.49,397.0 285.65,399.7 285.80,400.2 285.95,392.2 286.10,395.6 286.25,396.4 286.40,395.1 286.55,397.4 286.70,397.1 286.85,396.1 287.00,397.0 287.15,394.0 287.30,395.2 287.46,395.4 287.61,398.8 287.76,394.0 287.91,396.7 288.06,398.5 288.21,396.9 288.36,398.6 288.51,395.8 288.66,397.9 288.81,398.8 288.96,401.3 289.11,398.4 289.27,399.7 289.42,397.1 289.57,397.2 289.72,400.0 289.87,398.1 290.02,399.7 290.17,398.4 290.32,401.0 290.47,401.5 290.62,395.4 290.77,400.5 290.93,397.8 291.08,397.9 291.23,396.8 291.38,398.3 291.53,394.9 291.68,395.6 291.83,395.5 291.98,397.5 292.13,398.7 292.28,398.3 292.43,397.6 292.58,395.8 292.74,393.6 292.89,397.7 293.04,397.2 293.19,397.6 293.34,399.6 293.49,396.5 293.64,396.5 293.79,392.4 293.94,397.9 294.09,396.7 294.24,395.4 294.39,397.5 294.55,394.8 294.70,395.7 294.85,400.5 295.00,398.2 295.15,398.5 295.30,398.1 295.45,397.9 295.60,397.0 295.75,401.0 295.90,396.5 296.05,398.0 296.20,396.1 296.36,395.9 296.51,391.8 296.66,392.8 296.81,399.5 296.96,399.3 297.11,395.6 297.26,396.3 297.41,397.6 297.56,394.4 297.71,399.7 297.86,394.3 298.01,394.9 298.17,390.9 298.32,399.1 298.47,396.3 298.62,399.3 298.77,394.2 298.92,396.7 299.07,396.2 299.22,396.4 299.37,400.0 299.52,400.3 299.67,398.6 299.82,395.1 299.98,397.6 300.13,398.4 300.28,396.8 300.43,396.8 300.58,396.6 300.73,393.8 300.88,396.0 301.03,398.6 301.18,393.5 301.33,395.6 301.48,397.0 301.63,392.6 301.79,395.0 301.94,391.8 302.09,393.9 302.24,392.3 302.39,393.2 302.54,393.9 302.69,394.3 302.84,394.4 302.99,389.9 303.14,397.8 303.29,394.0 303.44,392.3 303.60,393.1 303.75,394.9 303.90,392.2 304.05,393.3 304.20,393.1 304.35,395.1 304.50,392.3 304.65,394.7 304.80,394.4 304.95,393.3 305.10,396.0 305.25,393.4 305.41,390.8 305.56,393.7 305.71,393.3 305.86,392.8 306.01,393.2 306.16,397.5 306.31,393.0 306.46,393.3 306.61,391.7 306.76,394.8 306.91,391.8 307.06,390.0 307.22,389.0 307.37,392.5 307.52,392.8 307.67,387.6 307.82,389.3 307.97,392.0 308.12,392.7 308.27,387.4 308.42,389.1 308.57,391.6 308.72,388.4 308.88,388.3 309.03,387.9 309.18,385.9 309.33,388.7 309.48,389.0 309.63,384.9 309.78,388.0 309.93,390.0 310.08,387.7 310.23,389.1 310.38,385.3 310.53,389.4 310.69,384.0 310.84,390.0 310.99,384.1 311.14,383.1 311.29,382.3 311.44,383.0 311.59,382.4 311.74,381.5 311.89,382.0 312.04,384.0 312.19,384.1 312.34,380.6 312.50,384.1 312.65,377.9 312.80,377.4 312.95,376.6 313.10,380.5 313.25,374.4 313.40,374.2 313.55,380.7 313.70,381.4 313.85,379.8 314.00,371.7 314.15,375.1 314.31,376.8 314.46,374.2 314.61,368.9 314.76,371.8 314.91,367.4 315.06,368.1 315.21,377.1 315.36,372.3 315.51,365.6 315.66,364.9 315.81,370.0 315.96,366.3 316.12,369.3 316.27,365.1 316.42,365.9 316.57,366.7 316.72,362.5 316.87,359.3 317.02,361.1 317.17,362.2 317.32,363.3 317.47,363.4 317.62,363.0 317.77,364.5 317.93,360.0 318.08,366.8 318.23,368.5 318.38,363.3 318.53,362.7 318.68,365.9 318.83,364.0 318.98,362.6 319.13,361.6 319.28,359.9 319.43,358.7 319.58,364.5 319.74,366.4 319.89,359.7 320.04,363.0 320.19,364.2 320.34,362.6 320.49,361.9 320.64,363.5 320.79,359.2 320.94,365.3 321.09,365.1 321.24,372.8 321.39,369.8 321.55,366.5 321.70,368.0 321.85,373.6 322.00,373.8 322.15,370.2 322.30,369.9 322.45,366.7 322.60,370.5 322.75,371.5 322.90,370.5 323.05,377.9 323.20,368.5 323.36,373.9 323.51,375.9 323.66,376.6 323.81,380.5 323.96,372.7 324.11,375.0 324.26,377.8 324.41,378.4 324.56,377.5 324.71,377.0 324.86,382.2 325.01,377.3 325.17,379.0 325.32,384.5 325.47,385.6 325.62,383.9 325.77,380.0 325.92,380.4 326.07,380.7 326.22,380.5 326.37,382.6 326.52,387.1 326.67,384.9 326.82,382.9 326.98,383.1 327.13,382.5 327.28,388.4 327.43,381.1 327.58,386.8 327.73,383.1 327.88,384.2 328.03,383.5 328.18,389.4 328.33,387.2 328.48,393.8 328.64,385.4 328.79,385.5 328.94,389.5 329.09,389.6 329.24,387.9 329.39,384.2 329.54,392.1 329.69,390.3 329.84,390.1 329.99,388.0 330.14,390.9 330.29,388.3 330.45,389.8 330.60,389.4 330.75,392.7 330.90,389.0 331.05,389.4 331.20,392.6 331.35,390.8 331.50,390.3 331.65,389.9 331.80,392.6 331.95,389.2 332.10,391.6 332.26,395.1 332.41,391.6 332.56,389.1 332.71,388.2 332.86,391.2 333.01,388.2 333.16,387.5 333.31,389.3 333.46,388.6 333.61,392.9 333.76,387.9 333.91,394.4 334.07,389.4 334.22,391.3 334.37,392.5 334.52,391.5 334.67,392.6 334.82,388.9 334.97,386.1 335.12,390.6 335.27,387.4 335.42,389.7 335.57,393.0 335.72,390.5 335.88,389.6 336.03,388.5 336.18,390.3 336.33,390.5 336.48,387.4 336.63,391.5 336.78,388.5 336.93,391.3 337.08,389.8 337.23,392.9 337.38,392.6 337.53,390.7 337.69,390.5 337.84,391.7 337.99,393.7 338.14,393.0 338.29,391.0 338.44,391.4 338.59,394.1 338.74,387.2 338.89,391.9 339.04,388.8 339.19,393.7 339.34,389.7 339.50,390.6 339.65,388.5 339.80,390.9 339.95,392.6 340.10,394.5 340.25,388.2 340.40,390.1 340.55,399.4 340.70,393.1 340.85,391.1 341.00,392.3 341.15,385.5 341.31,394.8 341.46,391.7 341.61,388.4 341.76,394.0 341.91,390.2 342.06,389.4 342.21,392.8 342.36,392.6 342.51,390.9 342.66,391.8 342.81,389.2 342.96,389.0 343.12,394.1 343.27,395.0 343.42,393.2 343.57,393.2 343.72,391.7 343.87,392.3 344.02,390.7 344.17,396.4 344.32,391.7 344.47,393.8 344.62,393.0 344.77,390.2 344.93,397.2 345.08,392.5 345.23,391.8 345.38,393.7 345.53,391.7 345.68,393.7 345.83,391.7 345.98,394.9 346.13,394.0 346.28,391.2 346.43,396.1 346.59,394.5 346.74,391.9 346.89,395.0 347.04,395.2 347.19,398.1 347.34,392.7 347.49,396.3 347.64,394.4 347.79,395.9 347.94,394.2 348.09,394.7 348.24,395.9 348.40,392.6 348.55,390.8 348.70,395.1 348.85,394.3 349.00,395.4 349.15,396.5 349.30,394.9 349.45,397.7 349.60,395.4 349.75,395.7 349.90,397.2 350.05,396.8 350.21,395.5 350.36,396.0 350.51,394.3 350.66,394.6 350.81,396.1 350.96,397.5 351.11,395.1 351.26,397.6 351.41,399.8 351.56,400.2 351.71,396.2 351.86,398.2 352.02,397.4 352.17,397.8 352.32,397.9 352.47,397.3 352.62,397.9 352.77,396.8 352.92,395.9 353.07,396.9 353.22,397.4 353.37,398.9 353.52,397.3 353.67,398.0 353.83,399.3 353.98,394.8 354.13,396.2 354.28,397.7 354.43,396.8 354.58,394.8 354.73,398.7 354.88,396.6 355.03,394.9 355.18,400.4 355.33,394.4 355.48,396.8 355.64,395.6 355.79,397.1 355.94,398.0 356.09,395.4 356.24,396.8 356.39,396.7 356.54,395.1 356.69,399.2 356.84,397.4 356.99,396.5 357.14,395.8 357.29,396.4 357.45,397.4 357.60,396.2 357.75,399.5 357.90,392.3 358.05,393.1 358.20,396.7 358.35,393.7 358.50,397.1 358.65,396.0 358.80,398.3 358.95,398.0 359.10,399.7 359.26,399.0 359.41,399.6 359.56,398.3 359.71,399.3 359.86,398.2 360.01,396.2 360.16,395.0 360.31,395.0 360.46,398.2 360.61,392.8 360.76,397.7 360.91,395.9 361.07,398.8 361.22,397.8 361.37,396.0 361.52,397.4 361.67,393.1 361.82,397.9 361.97,398.3 362.12,394.0 362.27,399.1 362.42,397.2 362.57,397.8 362.72,394.8 362.88,398.6 363.03,398.6 363.18,397.5 363.33,395.6 363.48,398.9 363.63,399.9 363.78,398.3 363.93,399.4 364.08,396.4 364.23,397.8 364.38,398.3 364.53,397.8 364.69,402.9 364.84,398.4 364.99,396.6 365.14,399.2 365.29,395.6 365.44,398.3 365.59,399.1 365.74,396.7 365.89,397.1 366.04,395.9 366.19,397.9 366.35,396.4 366.50,400.9 366.65,398.9 366.80,397.3 366.95,395.1 367.10,401.5 367.25,400.2 367.40,398.6 367.55,398.1 367.70,398.1 367.85,396.9 368.00,401.3 368.16,398.1 368.31,395.1 368.46,396.5 368.61,392.9 368.76,399.0 368.91,399.2 369.06,401.1 369.21,401.7 369.36,396.3 369.51,398.6 369.66,399.7 369.81,399.3 369.97,396.8 370.12,399.3 370.27,398.7 370.42,400.3 370.57,397.7 370.72,397.4 370.87,396.8 371.02,397.1 371.17,396.4 371.32,397.2 371.47,398.7 371.62,398.7 371.78,400.3 371.93,399.8 372.08,399.0 372.23,395.7 372.38,398.9 372.53,400.0 372.68,395.4 372.83,395.7 372.98,396.0 373.13,395.9 373.28,397.2 373.43,396.0 373.59,398.5 373.74,395.5 373.89,397.5 374.04,396.8 374.19,396.0 374.34,399.7 374.49,397.8 374.64,398.8 374.79,397.2 374.94,399.1 375.09,398.9 375.24,397.5 375.40,394.5 375.55,399.3 375.70,399.1 375.85,398.1 376.00,398.2 376.15,398.0 376.30,398.2 376.45,395.9 376.60,397.7 376.75,398.4 376.90,396.7 377.05,396.0 377.21,401.3 377.36,398.9 377.51,397.2 377.66,396.9 377.81,392.9 377.96,395.2 378.11,397.3 378.26,400.2 378.41,394.0 378.56,396.5 378.71,401.4 378.86,399.1 379.02,398.6 379.17,400.0 379.32,397.6 379.47,397.5 379.62,399.1 379.77,399.4 379.92,395.8 380.07,400.7 380.22,394.6 380.37,396.5 380.52,403.5 380.67,396.9 380.83,399.0 380.98,396.0 381.13,397.2 381.28,396.5 381.43,397.1 381.58,399.1 381.73,401.1 381.88,399.5 382.03,400.7 382.18,396.9 382.33,400.6 382.48,398.9 382.64,400.4 382.79,397.1 382.94,397.4 383.09,400.4 383.24,399.0 383.39,398.0 383.54,396.6 383.69,397.6 383.84,398.7 383.99,399.2 384.14,396.8 384.30,397.2 384.45,398.6 384.60,395.7 384.75,399.5 384.90,397.8 385.05,397.5 385.20,393.3 385.35,394.8 385.50,395.8 385.65,396.7 385.80,395.7 385.95,398.4 386.11,398.0 386.26,397.2 386.41,393.9 386.56,400.3 386.71,397.2 386.86,398.8 387.01,396.5 387.16,397.7 387.31,399.0 387.46,398.1 387.61,399.5 387.76,397.4 387.92,401.4 388.07,394.2 388.22,396.7 388.37,399.5 388.52,397.2 388.67,396.9 388.82,394.4 388.97,399.9 389.12,394.2 389.27,398.6 389.42,398.1 389.57,399.3 389.73,400.4 389.88,396.4 390.03,396.2 390.18,397.1 390.33,394.5 390.48,399.2 390.63,396.9 390.78,398.0 390.93,395.6 391.08,397.7 391.23,396.5 391.38,397.5 391.54,395.6 391.69,399.5 391.84,396.4 391.99,392.9 392.14,398.8 392.29,397.1 392.44,396.0 392.59,402.3 392.74,397.5 392.89,395.1 393.04,396.5 393.19,398.3 393.35,397.2 393.50,399.9 393.65,399.6 393.80,396.1 393.95,397.7 394.10,398.8 394.25,396.8 394.40,396.7 394.55,399.2 394.70,398.4 394.85,395.0 395.00,396.6 395.16,396.8 395.31,397.4 395.46,396.2 395.61,400.1 395.76,395.8 395.91,395.5 396.06,398.0 396.21,393.4 396.36,395.6 396.51,398.7 396.66,395.1 396.81,396.0 396.97,399.6 397.12,398.4 397.27,397.7 397.42,398.0 397.57,396.3 397.72,398.1 397.87,397.2 398.02,402.2 398.17,398.5 398.32,396.9 398.47,397.4 398.62,397.6 398.78,395.0 398.93,396.0 399.08,400.4 399.23,394.9 399.38,396.4 399.53,399.4 399.68,400.3 399.83,395.6 399.98,400.2 400.13,396.8 400.28,400.6 400.43,398.4 400.59,397.0 400.74,398.8 400.89,398.5 401.04,396.0 401.19,401.5 401.34,396.8 401.49,399.6 401.64,396.5 401.79,394.0 401.94,395.3 402.09,397.2 402.24,398.7 402.40,400.7 402.55,397.6 402.70,396.9 402.85,395.1 403.00,397.3 403.15,397.9 403.30,393.2 403.45,399.8 403.60,399.5 403.75,401.6 403.90,395.6 404.06,397.4 404.21,397.3 404.36,394.8 404.51,395.7 404.66,395.4 404.81,398.2 404.96,398.0 405.11,399.7 405.26,396.4 405.41,394.6 405.56,398.0 405.71,397.8 405.87,398.4 406.02,399.5 406.17,396.0 406.32,398.6 406.47,395.2 406.62,397.3 406.77,398.3 406.92,396.8 407.07,397.4 407.22,394.3 407.37,395.7 407.52,397.2 407.68,394.6 407.83,395.2 407.98,401.5 408.13,397.3 408.28,395.2 408.43,394.8 408.58,399.3 408.73,391.3 408.88,395.9 409.03,397.7 409.18,395.4 409.33,397.4 409.49,394.4 409.64,396.3 409.79,396.4 409.94,396.3 410.09,396.5 410.24,396.3 410.39,398.3 410.54,395.6 410.69,394.9 410.84,395.5 410.99,395.4 411.14,393.0 411.30,392.2 411.45,393.2 411.60,396.3 411.75,394.4 411.90,394.8 412.05,401.2 412.20,397.7 412.35,395.1 412.50,394.2 412.65,398.1 412.80,393.8 412.95,397.7 413.11,396.4 413.26,397.9 413.41,393.7 413.56,396.8 413.71,391.4 413.86,394.6 414.01,397.0 414.16,396.2 414.31,391.1 414.46,396.0 414.61,395.5 414.76,394.4 414.92,393.1 415.07,393.9 415.22,393.3 415.37,396.2 415.52,395.2 415.67,396.4 415.82,395.6 415.97,391.6 416.12,394.4 416.27,398.4 416.42,391.8 416.57,394.6 416.73,392.4 416.88,392.2 417.03,394.4 417.18,395.8 417.33,395.5 417.48,394.9 417.63,395.9 417.78,390.7 417.93,395.6 418.08,394.8 418.23,393.6 418.38,394.0 418.54,392.3 418.69,396.4 418.84,392.6 418.99,391.1 419.14,394.1 419.29,393.0 419.44,394.1 419.59,397.3 419.74,394.0 419.89,394.6 420.04,398.9 420.19,391.6 420.35,395.2 420.50,396.9 420.65,397.6 420.80,399.1 420.95,393.4 421.10,396.0 421.25,394.6 421.40,394.0 421.55,393.5 421.70,392.1 421.85,395.7 422.01,396.6 422.16,393.1 422.31,396.7 422.46,394.2 422.61,393.4 422.76,390.3 422.91,397.6 423.06,396.9 423.21,395.0 423.36,394.9 423.51,393.1 423.66,396.7 423.82,395.6 423.97,396.9 424.12,396.2 424.27,393.2 424.42,392.9 424.57,396.8 424.72,392.8 424.87,396.6 425.02,397.9 425.17,393.7 425.32,397.5 425.47,396.3 425.63,397.3 425.78,395.1 425.93,396.3 426.08,397.2 426.23,400.0 426.38,397.9 426.53,397.5 426.68,394.1 426.83,397.2 426.98,395.3 427.13,396.5 427.28,397.2 427.44,398.6 427.59,397.9 427.74,397.1 427.89,396.7 428.04,399.4 428.19,395.1 428.34,396.9 428.49,399.5 428.64,396.5 428.79,398.5 428.94,398.6 429.09,400.7 429.25,399.1 429.40,393.8 429.55,397.0 429.70,397.5 429.85,398.6 430.00,397.7 430.15,400.6 430.30,399.1 430.45,394.8 430.60,395.8 430.75,393.1 430.90,400.3 431.06,396.8 431.21,396.8 431.36,394.0 431.51,396.2 431.66,397.8 431.81,396.2 431.96,396.2 432.11,395.8 432.26,400.7 432.41,395.9 432.56,394.2 432.71,396.0 432.87,396.3 433.02,396.8 433.17,396.5 433.32,394.8 433.47,396.6 433.62,397.7 433.77,394.3 433.92,400.7 434.07,400.2 434.22,393.5 434.37,396.2 434.52,398.9 434.68,399.5 434.83,400.3 434.98,393.4 435.13,394.8 435.28,396.0 435.43,398.0 435.58,394.9 435.73,397.8 435.88,397.8 436.03,398.4 436.18,394.5 436.33,397.4 436.49,397.1 436.64,396.2 436.79,399.5 436.94,396.5 437.09,399.8 437.24,395.9 437.39,400.3 437.54,400.2 437.69,395.5 437.84,397.7 437.99,397.7 438.14,395.2 438.30,398.6 438.45,398.2 438.60,395.5 438.75,397.3 438.90,398.8 439.05,396.8 439.20,395.8 439.35,400.3 439.50,395.3 439.65,397.8 439.80,399.3 439.95,398.7 440.11,393.7 440.26,396.5 440.41,396.9 440.56,396.8 440.71,398.4 440.86,398.2 441.01,397.4 441.16,397.7 441.31,399.1 441.46,399.6 441.61,393.6 441.77,401.4 441.92,396.2 442.07,398.7 442.22,394.1 442.37,396.2 442.52,394.8 442.67,399.3 442.82,398.9 442.97,397.2 443.12,396.9 443.27,397.9 443.42,395.4 443.58,396.0 443.73,395.7 443.88,398.7 444.03,397.2 444.18,394.7 444.33,397.8 444.48,398.2 444.63,399.8 444.78,396.1 444.93,397.9 445.08,401.1 445.23,396.5 445.39,396.4 445.54,398.1 445.69,396.1 445.84,397.1 445.99,396.1 446.14,395.6 446.29,398.7 446.44,396.3 446.59,395.1 446.74,396.5 446.89,396.7 447.04,397.6 447.20,398.8 447.35,400.4 447.50,394.6 447.65,396.5 447.80,393.5 447.95,397.3 448.10,397.9 448.25,395.6 448.40,395.1 448.55,395.0 448.70,394.0 448.85,398.0 449.01,400.5 449.16,394.6 449.31,399.9 449.46,396.5 449.61,394.1 449.76,397.8 449.91,398.1 450.06,397.4 450.21,396.2 450.36,399.8 450.51,396.1 450.66,397.8 450.82,397.8 450.97,394.8 451.12,393.0 451.27,393.2 451.42,395.7 451.57,397.1 451.72,393.0 451.87,395.0 452.02,399.3 452.17,392.9 452.32,397.2 452.47,397.0 452.63,397.8 452.78,393.4 452.93,396.9 453.08,393.5 453.23,398.8 453.38,394.5 453.53,396.9 453.68,394.5 453.83,396.3 453.98,393.0 454.13,396.5 454.28,397.1 454.44,395.9 454.59,399.1 454.74,396.6 454.89,397.4 455.04,396.8 455.19,399.4 455.34,394.4 455.49,395.2 455.64,395.2 455.79,396.8 455.94,396.1 456.09,397.2 456.25,396.1 456.40,394.4 456.55,395.3 456.70,396.2 456.85,390.8 457.00,398.0 457.15,394.1 457.30,394.5 457.45,395.6 457.60,394.6 457.75,392.1 457.90,394.5 458.06,397.7 458.21,397.0 458.36,397.3 458.51,393.6 458.66,394.3 458.81,396.8 458.96,397.6 459.11,394.6 459.26,392.5 459.41,390.4 459.56,397.2 459.72,391.1 459.87,395.0 460.02,395.9 460.17,400.7 460.32,394.3 460.47,393.6 460.62,394.7 460.77,394.7 460.92,396.4 461.07,394.9 461.22,391.8 461.37,388.9 461.53,393.9 461.68,391.7 461.83,396.0 461.98,390.2 462.13,393.3 462.28,391.2 462.43,390.7 462.58,396.1 462.73,392.7 462.88,391.9 463.03,393.7 463.18,390.3 463.34,391.1 463.49,390.4 463.64,396.0 463.79,392.3 463.94,392.8 464.09,393.7 464.24,390.8 464.39,390.7 464.54,387.3 464.69,391.8 464.84,391.2 464.99,389.6 465.15,393.1 465.30,386.2 465.45,391.1 465.60,386.9 465.75,387.3 465.90,389.2 466.05,392.6 466.20,386.8 466.35,387.1 466.50,386.5 466.65,393.7 466.80,390.2 466.96,389.8 467.11,393.5 467.26,389.2 467.41,383.7 467.56,387.3 467.71,385.6 467.86,393.0 468.01,384.9 468.16,388.8 468.31,386.8 468.46,386.9 468.61,387.9 468.77,387.5 468.92,386.2 469.07,384.8 469.22,386.2 469.37,385.2 469.52,385.5 469.67,387.9 469.82,387.2 469.97,388.7 470.12,387.0 470.27,392.1 470.42,385.9 470.58,385.3 470.73,390.1 470.88,386.0 471.03,388.0 471.18,390.1 471.33,387.6 471.48,387.0 471.63,390.2 471.78,388.8 471.93,386.8 472.08,385.3 472.23,387.3 472.39,384.4 472.54,386.3 472.69,385.9 472.84,389.2 472.99,390.4 473.14,387.2 473.29,387.8 473.44,386.3 473.59,385.8 473.74,388.1 473.89,390.5 474.04,390.4 474.20,390.7 474.35,388.9 474.50,383.4 474.65,391.8 474.80,392.8 474.95,392.0 475.10,392.0 475.25,392.6 475.40,396.2 475.55,391.0 475.70,393.9 475.85,392.3 476.01,392.1 476.16,390.4 476.31,390.0 476.46,388.4 476.61,392.2 476.76,390.3 476.91,388.4 477.06,389.5 477.21,388.6 477.36,394.9 477.51,390.9 477.66,391.7 477.82,388.9 477.97,389.3 478.12,393.9 478.27,391.2 478.42,392.2 478.57,395.8 478.72,396.4 478.87,393.4 479.02,393.0 479.17,392.5 479.32,391.4 479.48,396.4 479.63,389.4 479.78,391.9 479.93,387.9 480.08,389.4 480.23,393.0 480.38,393.2 480.53,392.9 480.68,391.5 480.83,390.7 480.98,391.1 481.13,391.4 481.29,394.6 481.44,395.4 481.59,393.2 481.74,391.1 481.89,390.2 482.04,392.9 482.19,391.7 482.34,388.3 482.49,395.2 482.64,392.2 482.79,391.5 482.94,390.3 483.10,390.3 483.25,394.1 483.40,390.1 483.55,392.4 483.70,393.5 483.85,396.1 484.00,393.4 484.15,392.0 484.30,391.1 484.45,393.9 484.60,394.3 484.75,391.1 484.91,393.3 485.06,391.7 485.21,388.5 485.36,389.8 485.51,393.8 485.66,395.2 485.81,393.5 485.96,391.6 486.11,390.4 486.26,393.2 486.41,392.7 486.56,388.5 486.72,393.4 486.87,390.5 487.02,393.5 487.17,393.2 487.32,393.7 487.47,394.4 487.62,393.7 487.77,389.9 487.92,390.0 488.07,394.5 488.22,393.3 488.37,388.9 488.53,388.0 488.68,394.3 488.83,397.2 488.98,394.2 489.13,392.0 489.28,393.1 489.43,386.7 489.58,390.5 489.73,394.8 489.88,394.6 490.03,388.2 490.18,395.4 490.34,394.0 490.49,394.9 490.64,392.6 490.79,393.1 490.94,390.8 491.09,393.9 491.24,395.2 491.39,391.3 491.54,394.2 491.69,392.3 491.84,395.7 491.99,395.6 492.15,388.7 492.30,394.7 492.45,395.9 492.60,392.7 492.75,393.4 492.90,393.6 493.05,391.6 493.20,393.8 493.35,397.4 493.50,395.2 493.65,397.5 493.80,396.4 493.96,396.9 494.11,394.7 494.26,396.1 494.41,398.8 494.56,397.7 494.71,395.4 494.86,393.3 495.01,392.9 495.16,395.4 495.31,395.8 495.46,391.2 495.61,395.5 495.77,395.8 495.92,395.8 496.07,394.1 496.22,399.9 496.37,397.1 496.52,392.5 496.67,393.9 496.82,397.1 496.97,396.5 497.12,395.8 497.27,395.5 497.43,395.2 497.58,394.7 497.73,393.6 497.88,396.9 498.03,390.1 498.18,394.3 498.33,398.3 498.48,394.3 498.63,393.5 498.78,399.7 498.93,398.0 499.08,395.7 499.24,394.8 499.39,395.5 499.54,395.3 499.69,395.6 499.84,394.6 499.99,397.2 500.14,395.0 500.29,392.6 500.44,393.6 500.59,396.2 500.74,394.2 500.89,391.4 501.05,399.2 501.20,397.3 501.35,395.4 501.50,395.3 501.65,397.4 501.80,399.1 501.95,395.2 502.10,397.2 502.25,395.2 502.40,397.1 502.55,394.2 502.70,392.9 502.86,396.7 503.01,396.4 503.16,398.0 503.31,395.2 503.46,399.3 503.61,396.8 503.76,399.6 503.91,396.0 504.06,399.6 504.21,396.5 504.36,396.9 504.51,398.6 504.67,393.2 504.82,394.6 504.97,400.3 505.12,393.8 505.27,395.8 505.42,397.8 505.57,399.6 505.72,395.8 505.87,397.1 506.02,394.6 506.17,396.1 506.32,398.8 506.48,397.5 506.63,396.8 506.78,397.7 506.93,397.2 507.08,397.2 507.23,396.2 507.38,395.0 507.53,398.3 507.68,394.7 507.83,398.9 507.98,401.1 508.13,399.9 508.29,401.5 508.44,395.0 508.59,397.5 508.74,395.4 508.89,395.6 509.04,393.7 509.19,394.7 509.34,398.7 509.49,398.4 509.64,399.4 509.79,399.3 509.94,398.6 510.10,395.6 510.25,396.9 510.40,398.6 510.55,399.6 510.70,396.4 510.85,396.2 511.00,396.3 511.15,400.3 511.30,398.3 511.45,396.6 511.60,395.7 511.75,398.1 511.91,394.0 512.06,396.8 512.21,396.1 512.36,396.1 512.51,397.6 512.66,398.1 512.81,403.1 512.96,397.5 513.11,398.6 513.26,395.7 513.41,394.1 513.56,399.5 513.72,401.1 513.87,395.4 514.02,397.2 514.17,399.5 514.32,397.5 514.47,392.8 514.62,399.3 514.77,397.1 514.92,398.8 515.07,395.5 515.22,399.1 515.37,399.4 515.53,396.0 515.68,398.3 515.83,396.2 515.98,396.4 516.13,395.7 516.28,396.6 516.43,396.1 516.58,399.6 516.73,397.0 516.88,395.3 517.03,400.0 517.19,398.5 517.34,399.3 517.49,397.3 517.64,398.8 517.79,397.2 517.94,395.6 518.09,397.6 518.24,397.7 518.39,397.7 518.54,399.1 518.69,394.1 518.84,398.0 519.00,395.9 519.15,396.9 519.30,398.3 519.45,397.6 519.60,396.2 519.75,398.9 519.90,397.4 520.05,399.3 520.20,399.9 520.35,396.8 520.50,395.4 520.65,397.7 520.81,399.1 520.96,398.1 521.11,395.3 521.26,394.3 521.41,395.7 521.56,395.7 521.71,398.7 521.86,397.7 522.01,399.2 522.16,397.4 522.31,400.7 522.46,397.6 522.62,398.6 522.77,396.8 522.92,398.4 523.07,399.6 523.22,399.1 523.37,400.0 523.52,396.4 523.67,398.5 523.82,400.8 523.97,398.1 524.12,397.3 524.27,397.2 524.43,396.6 524.58,397.9 524.73,400.2 524.88,398.5 525.03,397.6 525.18,396.1 525.33,395.5 525.48,402.1 525.63,396.7 525.78,397.8 525.93,396.7 526.08,397.9 526.24,396.8 526.39,397.8 526.54,400.3 526.69,396.2 526.84,398.6 526.99,397.5 527.14,398.9 527.29,396.3 527.44,398.4 527.59,395.7 527.74,394.1 527.89,395.1 528.05,395.8 528.20,395.4 528.35,396.9 528.50,399.6 528.65,395.4 528.80,398.4 528.95,397.8 529.10,396.2 529.25,395.8 529.40,398.3 529.55,398.4 529.70,396.9 529.86,397.2 530.01,397.5 530.16,395.0 530.31,397.7 530.46,398.1 530.61,400.8 530.76,395.1 530.91,395.9 531.06,397.7 531.21,396.4 531.36,396.7 531.51,397.5 531.67,397.0 531.82,397.4 531.97,398.3 532.12,394.5 532.27,398.6 532.42,393.3 532.57,400.7 532.72,399.2 532.87,396.4 533.02,399.4 533.17,397.2 533.32,398.3 533.48,398.9 533.50,398.2 533.50,397.5 533.50,398.7 533.50,397.2 533.50,396.8"/>
<rect x="44.3" y="9.2" width="490" height="398.4" fill="none" stroke="#000" stroke-width="1.9"/>
<line x1="44.0" y1="407" x2="44.0" y2="416" stroke="#000" stroke-width="1.9"/>
<line x1="194.8" y1="407" x2="194.8" y2="416" stroke="#000" stroke-width="1.9"/>
<line x1="345.7" y1="407" x2="345.7" y2="416" stroke="#000" stroke-width="1.9"/>
<line x1="496.5" y1="407" x2="496.5" y2="416" stroke="#000" stroke-width="1.9"/>
<line x1="119.4" y1="407" x2="119.4" y2="412" stroke="#000" stroke-width="1.5"/>
<line x1="270.3" y1="407" x2="270.3" y2="412" stroke="#000" stroke-width="1.5"/>
<line x1="421.1" y1="407" x2="421.1" y2="412" stroke="#000" stroke-width="1.5"/>
<text transform="translate(44.0,435.8) scale(0.97,1)" text-anchor="middle" font-size="20" font-family="Liberation Sans, Arial, sans-serif" font-weight="bold">20</text>
<text transform="translate(194.8,435.8) scale(0.97,1)" text-anchor="middle" font-size="20" font-family="Liberation Sans, Arial, sans-serif" font-weight="bold">40</text>
<text transform="translate(345.7,435.8) scale(0.97,1)" text-anchor="middle" font-size="20" font-family="Liberation Sans, Arial, sans-serif" font-weight="bold">60</text>
<text transform="translate(496.5,435.8) scale(0.97,1)" text-anchor="middle" font-size="20" font-family="Liberation Sans, Arial, sans-serif" font-weight="bold">80</text>
<text x="222.5" y="450.3" font-size="19.5" font-family="Liberation Sans, Arial, sans-serif" font-weight="bold">2</text>
<text transform="translate(238.45,450.3) scale(0.82,1)" text-anchor="middle" font-size="19" font-family="Liberation Serif, serif">θ</text>
<text x="248.7" y="450.3" font-size="19.5" font-family="Liberation Sans, Arial, sans-serif" font-weight="bold">(degree)</text>
<text transform="translate(26.2,187.1) rotate(-90) scale(1.028,1)" x="0" y="0" text-anchor="middle" font-size="19.5" font-family="Liberation Sans, Arial, sans-serif" font-weight="bold">Intensity (a.u.)</text>
<text transform="translate(107.2,23.0) scale(1.147,1)" text-anchor="middle" font-size="14.5" font-family="Liberation Sans, Arial, sans-serif" font-weight="bold">(111)</text>
<text transform="translate(146.2,173.0) scale(1.110,1)" text-anchor="middle" font-size="14.5" font-family="Liberation Sans, Arial, sans-serif" font-weight="bold">(200)</text>
<text transform="translate(256.3,123.4) scale(1.116,1)" text-anchor="middle" font-size="14.5" font-family="Liberation Sans, Arial, sans-serif" font-weight="bold">(220)</text>
<text transform="translate(322.55,148.3) scale(1.132,1)" text-anchor="middle" font-size="14.5" font-family="Liberation Sans, Arial, sans-serif" font-weight="bold">(311)</text>
<text transform="translate(348.0,205.4) scale(1.110,1)" text-anchor="middle" font-size="14.5" font-family="Liberation Sans, Arial, sans-serif" font-weight="bold">(222)</text>
<text transform="translate(419.1,204.3) scale(1.110,1)" text-anchor="middle" font-size="14.5" font-family="Liberation Sans, Arial, sans-serif" font-weight="bold">(400)</text>
<text transform="translate(476.0,176.5) scale(1.110,1)" text-anchor="middle" font-size="14.5" font-family="Liberation Sans, Arial, sans-serif" font-weight="bold">(331)</text>
<text transform="translate(504.0,202.8) scale(1.110,1)" text-anchor="middle" font-size="14.5" font-family="Liberation Sans, Arial, sans-serif" font-weight="bold">(420)</text>
<text x="517.9" y="230.3" text-anchor="middle" font-size="19" font-family="Liberation Sans, Arial, sans-serif" font-weight="bold" fill="#000">(a)</text>
<text x="517.9" y="299.6" text-anchor="middle" font-size="19.5" font-family="Liberation Sans, Arial, sans-serif" font-weight="bold" fill="#f00">(b)</text>
<text x="517.9" y="383.6" text-anchor="middle" font-size="19.5" font-family="Liberation Sans, Arial, sans-serif" font-weight="bold" fill="#00f">(c)</text>
</svg>
</body></html>
